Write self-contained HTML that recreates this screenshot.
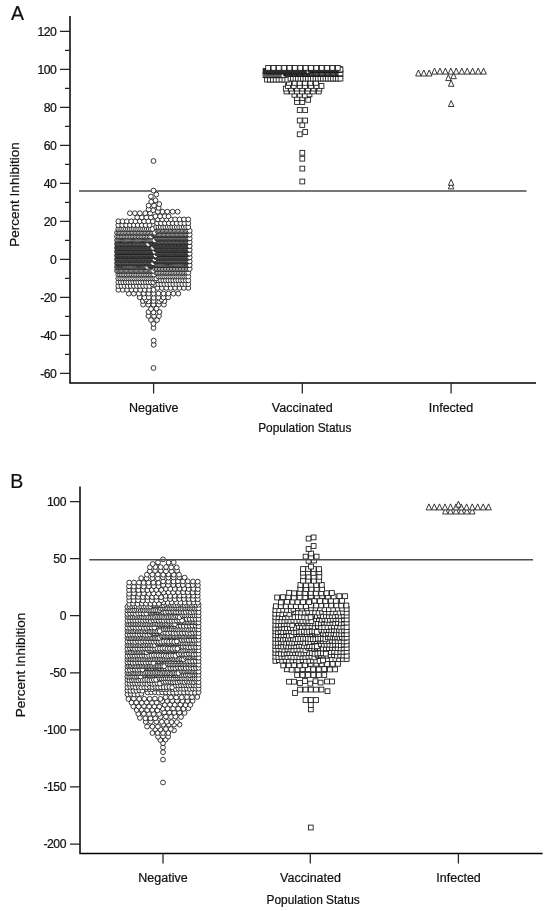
<!DOCTYPE html><html><head><meta charset="utf-8"><title>Figure</title><style>html,body{margin:0;padding:0;background:#fff}svg{display:block}text{stroke:#111;stroke-width:.22px}</style></head><body><svg width="550" height="911" viewBox="0 0 550 911" font-family="'Liberation Sans', sans-serif" font-size="12.5" fill="#111">
<defs><rect id="s" x="-2.4" y="-2.4" width="4.8" height="4.8"/><path id="t" d="M0-3.3L2.75 2.7H-2.75Z"/></defs>
<rect width="550" height="911" fill="#fff"/>
<text x="11" y="19.5" font-size="19.5">A</text>
<text x="10.2" y="488.4" font-size="19.5">B</text>
<path d="M79 191H526.5" stroke="#4a4a4a" stroke-width="1.4" fill="none"/>
<g fill="#fff" stroke="#1c1c1c" stroke-width=".88"><circle cx="153.5" cy="368" r="2.4"/><circle cx="153.7" cy="344.8" r="2.4"/><circle cx="153.7" cy="340.6" r="2.4"/><circle cx="153.5" cy="328" r="2.4"/><circle cx="153.5" cy="323.8" r="2.4"/><circle cx="151" cy="320" r="2.4"/><circle cx="157" cy="320" r="2.4"/><circle cx="148.5" cy="316" r="2.4"/><circle cx="154" cy="316" r="2.4"/><circle cx="159" cy="316" r="2.4"/><circle cx="148.5" cy="312" r="2.4"/><circle cx="153.5" cy="312.4" r="2.4"/><circle cx="159.5" cy="312" r="2.4"/><circle cx="151" cy="309" r="2.4"/><circle cx="156.5" cy="308.6" r="2.4"/><circle cx="143.1" cy="304.6" r="2.4"/><circle cx="148.3" cy="304.6" r="2.4"/><circle cx="153.5" cy="304.6" r="2.4"/><circle cx="158.7" cy="304.6" r="2.4"/><circle cx="163.9" cy="304.6" r="2.4"/><circle cx="142.9" cy="301" r="2.4"/><circle cx="148.5" cy="301.4" r="2.4"/><circle cx="153.6" cy="301" r="2.4"/><circle cx="159.2" cy="301.5" r="2.4"/><circle cx="164.4" cy="301.1" r="2.4"/><circle cx="146" cy="299.6" r="2.4"/><circle cx="161.5" cy="299.6" r="2.4"/><circle cx="139.7" cy="297.3" r="2.4"/><circle cx="144.4" cy="297.5" r="2.4"/><circle cx="148.8" cy="297.4" r="2.4"/><circle cx="153.7" cy="297.8" r="2.4"/><circle cx="158.4" cy="297.6" r="2.4"/><circle cx="163.5" cy="297.5" r="2.4"/><circle cx="168.2" cy="297.3" r="2.4"/><circle cx="128.8" cy="293.6" r="2.4"/><circle cx="133.8" cy="293.6" r="2.4"/><circle cx="138.8" cy="293.6" r="2.4"/><circle cx="143.7" cy="293.6" r="2.4"/><circle cx="148.7" cy="293.6" r="2.4"/><circle cx="153.6" cy="293.6" r="2.4"/><circle cx="158.5" cy="293.6" r="2.4"/><circle cx="163.5" cy="293.6" r="2.4"/><circle cx="168.4" cy="293.6" r="2.4"/><circle cx="173.4" cy="293.6" r="2.4"/><circle cx="178.3" cy="293.6" r="2.4"/><circle cx="118.3" cy="289.8" r="2.4"/><circle cx="122.7" cy="289.8" r="2.4"/><circle cx="127.1" cy="289.8" r="2.4"/><circle cx="131.5" cy="289.8" r="2.4"/><circle cx="135.9" cy="289.8" r="2.4"/><circle cx="140.3" cy="289.8" r="2.4"/><circle cx="144.7" cy="289.8" r="2.4"/><circle cx="149.1" cy="289.8" r="2.4"/><circle cx="153.5" cy="289.8" r="2.4"/><circle cx="157.5" cy="287.9" r="2.4"/><circle cx="161.9" cy="287.9" r="2.4"/><circle cx="166.3" cy="287.9" r="2.4"/><circle cx="170.7" cy="287.9" r="2.4"/><circle cx="175.1" cy="287.9" r="2.4"/><circle cx="179.5" cy="287.9" r="2.4"/><circle cx="183.9" cy="287.9" r="2.4"/><circle cx="188.3" cy="287.9" r="2.4"/><circle cx="118.3" cy="286" r="2.4"/><circle cx="121.4" cy="286" r="2.4"/><circle cx="124.5" cy="286" r="2.4"/><circle cx="127.6" cy="286" r="2.4"/><circle cx="130.7" cy="286" r="2.4"/><circle cx="133.8" cy="286" r="2.4"/><circle cx="136.9" cy="286" r="2.4"/><circle cx="140" cy="286" r="2.4"/><circle cx="143.1" cy="286" r="2.4"/><circle cx="146.2" cy="286" r="2.4"/><circle cx="149.3" cy="286" r="2.4"/><circle cx="152.3" cy="284.1" r="2.4"/><circle cx="155.3" cy="284.1" r="2.4"/><circle cx="158.3" cy="284.1" r="2.4"/><circle cx="161.3" cy="284.1" r="2.4"/><circle cx="164.3" cy="284.1" r="2.4"/><circle cx="167.3" cy="284.1" r="2.4"/><circle cx="170.3" cy="284.1" r="2.4"/><circle cx="173.3" cy="284.1" r="2.4"/><circle cx="176.3" cy="284.1" r="2.4"/><circle cx="179.3" cy="284.1" r="2.4"/><circle cx="182.3" cy="284.1" r="2.4"/><circle cx="185.3" cy="284.1" r="2.4"/><circle cx="188.3" cy="284.1" r="2.4"/><circle cx="118.3" cy="282.2" r="2.4"/><circle cx="120.8" cy="282.2" r="2.4"/><circle cx="123.3" cy="282.2" r="2.4"/><circle cx="125.8" cy="282.2" r="2.4"/><circle cx="128.3" cy="282.2" r="2.4"/><circle cx="130.8" cy="282.2" r="2.4"/><circle cx="133.3" cy="282.2" r="2.4"/><circle cx="135.8" cy="282.2" r="2.4"/><circle cx="138.3" cy="282.2" r="2.4"/><circle cx="140.8" cy="282.2" r="2.4"/><circle cx="143.3" cy="282.2" r="2.4"/><circle cx="145.8" cy="282.2" r="2.4"/><circle cx="148.3" cy="282.2" r="2.4"/><circle cx="150.8" cy="282.2" r="2.4"/><circle cx="153.3" cy="282.2" r="2.4"/><circle cx="155.8" cy="280.3" r="2.4"/><circle cx="158.3" cy="280.3" r="2.4"/><circle cx="160.8" cy="280.3" r="2.4"/><circle cx="163.3" cy="280.3" r="2.4"/><circle cx="165.8" cy="280.3" r="2.4"/><circle cx="168.3" cy="280.3" r="2.4"/><circle cx="170.8" cy="280.3" r="2.4"/><circle cx="173.3" cy="280.3" r="2.4"/><circle cx="175.8" cy="280.3" r="2.4"/><circle cx="178.3" cy="280.3" r="2.4"/><circle cx="180.8" cy="280.3" r="2.4"/><circle cx="183.3" cy="280.3" r="2.4"/><circle cx="185.8" cy="280.3" r="2.4"/><circle cx="188.3" cy="280.3" r="2.4"/><circle cx="118.3" cy="278.4" r="2.4"/><circle cx="120.3" cy="278.4" r="2.4"/><circle cx="122.3" cy="278.4" r="2.4"/><circle cx="124.3" cy="278.4" r="2.4"/><circle cx="126.3" cy="278.4" r="2.4"/><circle cx="128.3" cy="278.4" r="2.4"/><circle cx="130.3" cy="278.4" r="2.4"/><circle cx="132.3" cy="278.4" r="2.4"/><circle cx="134.3" cy="278.4" r="2.4"/><circle cx="136.3" cy="278.4" r="2.4"/><circle cx="138.3" cy="278.4" r="2.4"/><circle cx="140.3" cy="278.4" r="2.4"/><circle cx="142.3" cy="278.4" r="2.4"/><circle cx="144.3" cy="278.4" r="2.4"/><circle cx="146.3" cy="278.4" r="2.4"/><circle cx="148.3" cy="278.4" r="2.4"/><circle cx="150.3" cy="278.4" r="2.4"/><circle cx="152.3" cy="278.4" r="2.4"/><circle cx="154.3" cy="278.4" r="2.4"/><circle cx="156.3" cy="278.4" r="2.4"/><circle cx="158.3" cy="276.5" r="2.4"/><circle cx="160.3" cy="276.5" r="2.4"/><circle cx="162.3" cy="276.5" r="2.4"/><circle cx="164.3" cy="276.5" r="2.4"/><circle cx="166.3" cy="276.5" r="2.4"/><circle cx="168.3" cy="276.5" r="2.4"/><circle cx="170.3" cy="276.5" r="2.4"/><circle cx="172.3" cy="276.5" r="2.4"/><circle cx="174.3" cy="276.5" r="2.4"/><circle cx="176.3" cy="276.5" r="2.4"/><circle cx="178.3" cy="276.5" r="2.4"/><circle cx="180.3" cy="276.5" r="2.4"/><circle cx="182.3" cy="276.5" r="2.4"/><circle cx="184.3" cy="276.5" r="2.4"/><circle cx="186.3" cy="276.5" r="2.4"/><circle cx="188.3" cy="276.5" r="2.4"/><circle cx="118.3" cy="274.6" r="2.4"/><circle cx="120" cy="274.6" r="2.4"/><circle cx="121.7" cy="274.6" r="2.4"/><circle cx="123.4" cy="274.6" r="2.4"/><circle cx="125.1" cy="274.6" r="2.4"/><circle cx="126.8" cy="274.6" r="2.4"/><circle cx="128.5" cy="274.6" r="2.4"/><circle cx="130.2" cy="274.6" r="2.4"/><circle cx="131.9" cy="274.6" r="2.4"/><circle cx="133.6" cy="274.6" r="2.4"/><circle cx="135.3" cy="274.6" r="2.4"/><circle cx="137" cy="274.6" r="2.4"/><circle cx="138.7" cy="274.6" r="2.4"/><circle cx="140.4" cy="274.6" r="2.4"/><circle cx="142.1" cy="274.6" r="2.4"/><circle cx="143.8" cy="274.6" r="2.4"/><circle cx="145.5" cy="274.6" r="2.4"/><circle cx="147.2" cy="274.6" r="2.4"/><circle cx="148.9" cy="274.6" r="2.4"/><circle cx="150.6" cy="274.6" r="2.4"/><circle cx="152.3" cy="274.6" r="2.4"/><circle cx="154" cy="274.6" r="2.4"/><circle cx="156.3" cy="272.7" r="2.4"/><circle cx="157.9" cy="272.7" r="2.4"/><circle cx="159.5" cy="272.7" r="2.4"/><circle cx="161.1" cy="272.7" r="2.4"/><circle cx="162.7" cy="272.7" r="2.4"/><circle cx="164.3" cy="272.7" r="2.4"/><circle cx="165.9" cy="272.7" r="2.4"/><circle cx="167.5" cy="272.7" r="2.4"/><circle cx="169.1" cy="272.7" r="2.4"/><circle cx="170.7" cy="272.7" r="2.4"/><circle cx="172.3" cy="272.7" r="2.4"/><circle cx="173.9" cy="272.7" r="2.4"/><circle cx="175.5" cy="272.7" r="2.4"/><circle cx="177.1" cy="272.7" r="2.4"/><circle cx="178.7" cy="272.7" r="2.4"/><circle cx="180.3" cy="272.7" r="2.4"/><circle cx="181.9" cy="272.7" r="2.4"/><circle cx="183.5" cy="272.7" r="2.4"/><circle cx="185.1" cy="272.7" r="2.4"/><circle cx="186.7" cy="272.7" r="2.4"/><circle cx="188.3" cy="272.7" r="2.4"/><circle cx="117" cy="270.8" r="2.4"/><circle cx="118.2" cy="270.8" r="2.4"/><circle cx="119.5" cy="270.8" r="2.4"/><circle cx="120.8" cy="270.8" r="2.4"/><circle cx="122" cy="270.8" r="2.4"/><circle cx="123.2" cy="270.8" r="2.4"/><circle cx="124.5" cy="270.8" r="2.4"/><circle cx="125.8" cy="270.8" r="2.4"/><circle cx="127" cy="270.8" r="2.4"/><circle cx="128.2" cy="270.8" r="2.4"/><circle cx="129.5" cy="270.8" r="2.4"/><circle cx="130.8" cy="270.8" r="2.4"/><circle cx="132" cy="270.8" r="2.4"/><circle cx="133.2" cy="270.8" r="2.4"/><circle cx="134.5" cy="270.8" r="2.4"/><circle cx="135.8" cy="270.8" r="2.4"/><circle cx="137" cy="270.8" r="2.4"/><circle cx="138.2" cy="270.8" r="2.4"/><circle cx="139.5" cy="270.8" r="2.4"/><circle cx="140.8" cy="270.8" r="2.4"/><circle cx="142" cy="270.8" r="2.4"/><circle cx="143.2" cy="270.8" r="2.4"/><circle cx="144.5" cy="270.8" r="2.4"/><circle cx="145.8" cy="270.8" r="2.4"/><circle cx="147" cy="270.8" r="2.4"/><circle cx="148.2" cy="270.8" r="2.4"/><circle cx="149.5" cy="270.8" r="2.4"/><circle cx="150.8" cy="270.8" r="2.4"/><circle cx="152" cy="270.8" r="2.4"/><circle cx="153.2" cy="270.8" r="2.4"/><circle cx="155.2" cy="268.9" r="2.4"/><circle cx="156.7" cy="268.9" r="2.4"/><circle cx="158.2" cy="268.9" r="2.4"/><circle cx="159.7" cy="268.9" r="2.4"/><circle cx="161.2" cy="268.9" r="2.4"/><circle cx="162.7" cy="268.9" r="2.4"/><circle cx="164.2" cy="268.9" r="2.4"/><circle cx="165.7" cy="268.9" r="2.4"/><circle cx="167.2" cy="268.9" r="2.4"/><circle cx="168.7" cy="268.9" r="2.4"/><circle cx="170.2" cy="268.9" r="2.4"/><circle cx="171.7" cy="268.9" r="2.4"/><circle cx="173.2" cy="268.9" r="2.4"/><circle cx="174.7" cy="268.9" r="2.4"/><circle cx="176.2" cy="268.9" r="2.4"/><circle cx="177.7" cy="268.9" r="2.4"/><circle cx="179.2" cy="268.9" r="2.4"/><circle cx="180.7" cy="268.9" r="2.4"/><circle cx="182.2" cy="268.9" r="2.4"/><circle cx="183.7" cy="268.9" r="2.4"/><circle cx="185.2" cy="268.9" r="2.4"/><circle cx="186.7" cy="268.9" r="2.4"/><circle cx="188.2" cy="268.9" r="2.4"/><circle cx="189.7" cy="268.9" r="2.4"/><circle cx="117" cy="267" r="2.4"/><circle cx="118" cy="267" r="2.4"/><circle cx="118.9" cy="267" r="2.4"/><circle cx="119.8" cy="267" r="2.4"/><circle cx="120.8" cy="267" r="2.4"/><circle cx="121.8" cy="267" r="2.4"/><circle cx="122.7" cy="267" r="2.4"/><circle cx="123.7" cy="267" r="2.4"/><circle cx="124.6" cy="267" r="2.4"/><circle cx="125.5" cy="267" r="2.4"/><circle cx="126.5" cy="267" r="2.4"/><circle cx="127.5" cy="267" r="2.4"/><circle cx="128.4" cy="267" r="2.4"/><circle cx="129.3" cy="267" r="2.4"/><circle cx="130.3" cy="267" r="2.4"/><circle cx="131.2" cy="267" r="2.4"/><circle cx="132.2" cy="267" r="2.4"/><circle cx="133.2" cy="267" r="2.4"/><circle cx="134.1" cy="267" r="2.4"/><circle cx="135.1" cy="267" r="2.4"/><circle cx="136" cy="267" r="2.4"/><circle cx="136.9" cy="267" r="2.4"/><circle cx="137.9" cy="267" r="2.4"/><circle cx="138.8" cy="267" r="2.4"/><circle cx="139.8" cy="267" r="2.4"/><circle cx="140.8" cy="267" r="2.4"/><circle cx="141.7" cy="267" r="2.4"/><circle cx="142.7" cy="267" r="2.4"/><circle cx="143.6" cy="267" r="2.4"/><circle cx="144.6" cy="267" r="2.4"/><circle cx="145.5" cy="267" r="2.4"/><circle cx="146.4" cy="267" r="2.4"/><circle cx="147.4" cy="267" r="2.4"/><circle cx="148.8" cy="265.1" r="2.4"/><circle cx="149.8" cy="265.1" r="2.4"/><circle cx="150.8" cy="265.1" r="2.4"/><circle cx="151.7" cy="265.1" r="2.4"/><circle cx="152.6" cy="265.1" r="2.4"/><circle cx="153.6" cy="265.1" r="2.4"/><circle cx="154.5" cy="265.1" r="2.4"/><circle cx="155.5" cy="265.1" r="2.4"/><circle cx="156.4" cy="265.1" r="2.4"/><circle cx="157.4" cy="265.1" r="2.4"/><circle cx="158.3" cy="265.1" r="2.4"/><circle cx="159.3" cy="265.1" r="2.4"/><circle cx="160.2" cy="265.1" r="2.4"/><circle cx="161.2" cy="265.1" r="2.4"/><circle cx="162.1" cy="265.1" r="2.4"/><circle cx="163.1" cy="265.1" r="2.4"/><circle cx="164" cy="265.1" r="2.4"/><circle cx="165" cy="265.1" r="2.4"/><circle cx="165.9" cy="265.1" r="2.4"/><circle cx="166.9" cy="265.1" r="2.4"/><circle cx="167.8" cy="265.1" r="2.4"/><circle cx="168.8" cy="265.1" r="2.4"/><circle cx="169.8" cy="265.1" r="2.4"/><circle cx="170.7" cy="265.1" r="2.4"/><circle cx="171.6" cy="265.1" r="2.4"/><circle cx="172.6" cy="265.1" r="2.4"/><circle cx="173.5" cy="265.1" r="2.4"/><circle cx="174.5" cy="265.1" r="2.4"/><circle cx="175.4" cy="265.1" r="2.4"/><circle cx="176.4" cy="265.1" r="2.4"/><circle cx="177.3" cy="265.1" r="2.4"/><circle cx="178.3" cy="265.1" r="2.4"/><circle cx="179.2" cy="265.1" r="2.4"/><circle cx="180.2" cy="265.1" r="2.4"/><circle cx="181.1" cy="265.1" r="2.4"/><circle cx="182.1" cy="265.1" r="2.4"/><circle cx="183" cy="265.1" r="2.4"/><circle cx="184" cy="265.1" r="2.4"/><circle cx="184.9" cy="265.1" r="2.4"/><circle cx="185.9" cy="265.1" r="2.4"/><circle cx="186.8" cy="265.1" r="2.4"/><circle cx="187.8" cy="265.1" r="2.4"/><circle cx="188.8" cy="265.1" r="2.4"/><circle cx="189.7" cy="265.1" r="2.4"/><circle cx="117" cy="263.2" r="2.4"/><circle cx="117.7" cy="263.2" r="2.4"/><circle cx="118.4" cy="263.2" r="2.4"/><circle cx="119.2" cy="263.2" r="2.4"/><circle cx="119.9" cy="263.2" r="2.4"/><circle cx="120.6" cy="263.2" r="2.4"/><circle cx="121.3" cy="263.2" r="2.4"/><circle cx="122" cy="263.2" r="2.4"/><circle cx="122.8" cy="263.2" r="2.4"/><circle cx="123.5" cy="263.2" r="2.4"/><circle cx="124.2" cy="263.2" r="2.4"/><circle cx="124.9" cy="263.2" r="2.4"/><circle cx="125.6" cy="263.2" r="2.4"/><circle cx="126.4" cy="263.2" r="2.4"/><circle cx="127.1" cy="263.2" r="2.4"/><circle cx="127.8" cy="263.2" r="2.4"/><circle cx="128.5" cy="263.2" r="2.4"/><circle cx="129.2" cy="263.2" r="2.4"/><circle cx="130" cy="263.2" r="2.4"/><circle cx="130.7" cy="263.2" r="2.4"/><circle cx="131.4" cy="263.2" r="2.4"/><circle cx="132.1" cy="263.2" r="2.4"/><circle cx="132.8" cy="263.2" r="2.4"/><circle cx="133.6" cy="263.2" r="2.4"/><circle cx="134.3" cy="263.2" r="2.4"/><circle cx="135" cy="263.2" r="2.4"/><circle cx="135.7" cy="263.2" r="2.4"/><circle cx="136.4" cy="263.2" r="2.4"/><circle cx="137.2" cy="263.2" r="2.4"/><circle cx="137.9" cy="263.2" r="2.4"/><circle cx="138.6" cy="263.2" r="2.4"/><circle cx="139.3" cy="263.2" r="2.4"/><circle cx="140" cy="263.2" r="2.4"/><circle cx="140.8" cy="263.2" r="2.4"/><circle cx="141.5" cy="263.2" r="2.4"/><circle cx="142.2" cy="263.2" r="2.4"/><circle cx="142.9" cy="263.2" r="2.4"/><circle cx="143.6" cy="263.2" r="2.4"/><circle cx="144.4" cy="263.2" r="2.4"/><circle cx="145.1" cy="263.2" r="2.4"/><circle cx="145.8" cy="263.2" r="2.4"/><circle cx="146.5" cy="263.2" r="2.4"/><circle cx="147.2" cy="263.2" r="2.4"/><circle cx="148" cy="263.2" r="2.4"/><circle cx="148.7" cy="263.2" r="2.4"/><circle cx="149.4" cy="263.2" r="2.4"/><circle cx="150.1" cy="263.2" r="2.4"/><circle cx="150.8" cy="263.2" r="2.4"/><circle cx="151.6" cy="263.2" r="2.4"/><circle cx="152.3" cy="263.2" r="2.4"/><circle cx="153" cy="263.2" r="2.4"/><circle cx="155.1" cy="261.3" r="2.4"/><circle cx="155.9" cy="261.3" r="2.4"/><circle cx="156.6" cy="261.3" r="2.4"/><circle cx="157.3" cy="261.3" r="2.4"/><circle cx="158" cy="261.3" r="2.4"/><circle cx="158.7" cy="261.3" r="2.4"/><circle cx="159.5" cy="261.3" r="2.4"/><circle cx="160.2" cy="261.3" r="2.4"/><circle cx="160.9" cy="261.3" r="2.4"/><circle cx="161.6" cy="261.3" r="2.4"/><circle cx="162.3" cy="261.3" r="2.4"/><circle cx="163.1" cy="261.3" r="2.4"/><circle cx="163.8" cy="261.3" r="2.4"/><circle cx="164.5" cy="261.3" r="2.4"/><circle cx="165.2" cy="261.3" r="2.4"/><circle cx="165.9" cy="261.3" r="2.4"/><circle cx="166.7" cy="261.3" r="2.4"/><circle cx="167.4" cy="261.3" r="2.4"/><circle cx="168.1" cy="261.3" r="2.4"/><circle cx="168.8" cy="261.3" r="2.4"/><circle cx="169.5" cy="261.3" r="2.4"/><circle cx="170.3" cy="261.3" r="2.4"/><circle cx="171" cy="261.3" r="2.4"/><circle cx="171.7" cy="261.3" r="2.4"/><circle cx="172.4" cy="261.3" r="2.4"/><circle cx="173.1" cy="261.3" r="2.4"/><circle cx="173.9" cy="261.3" r="2.4"/><circle cx="174.6" cy="261.3" r="2.4"/><circle cx="175.3" cy="261.3" r="2.4"/><circle cx="176" cy="261.3" r="2.4"/><circle cx="176.7" cy="261.3" r="2.4"/><circle cx="177.5" cy="261.3" r="2.4"/><circle cx="178.2" cy="261.3" r="2.4"/><circle cx="178.9" cy="261.3" r="2.4"/><circle cx="179.6" cy="261.3" r="2.4"/><circle cx="180.3" cy="261.3" r="2.4"/><circle cx="181.1" cy="261.3" r="2.4"/><circle cx="181.8" cy="261.3" r="2.4"/><circle cx="182.5" cy="261.3" r="2.4"/><circle cx="183.2" cy="261.3" r="2.4"/><circle cx="183.9" cy="261.3" r="2.4"/><circle cx="184.7" cy="261.3" r="2.4"/><circle cx="185.4" cy="261.3" r="2.4"/><circle cx="186.1" cy="261.3" r="2.4"/><circle cx="186.8" cy="261.3" r="2.4"/><circle cx="187.5" cy="261.3" r="2.4"/><circle cx="188.3" cy="261.3" r="2.4"/><circle cx="189" cy="261.3" r="2.4"/><circle cx="189.7" cy="261.3" r="2.4"/><circle cx="117" cy="259.4" r="2.4"/><circle cx="117.6" cy="259.4" r="2.4"/><circle cx="118.2" cy="259.4" r="2.4"/><circle cx="118.7" cy="259.4" r="2.4"/><circle cx="119.3" cy="259.4" r="2.4"/><circle cx="119.9" cy="259.4" r="2.4"/><circle cx="120.5" cy="259.4" r="2.4"/><circle cx="121.1" cy="259.4" r="2.4"/><circle cx="121.6" cy="259.4" r="2.4"/><circle cx="122.2" cy="259.4" r="2.4"/><circle cx="122.8" cy="259.4" r="2.4"/><circle cx="123.4" cy="259.4" r="2.4"/><circle cx="124" cy="259.4" r="2.4"/><circle cx="124.5" cy="259.4" r="2.4"/><circle cx="125.1" cy="259.4" r="2.4"/><circle cx="125.7" cy="259.4" r="2.4"/><circle cx="126.3" cy="259.4" r="2.4"/><circle cx="126.9" cy="259.4" r="2.4"/><circle cx="127.4" cy="259.4" r="2.4"/><circle cx="128" cy="259.4" r="2.4"/><circle cx="128.6" cy="259.4" r="2.4"/><circle cx="129.2" cy="259.4" r="2.4"/><circle cx="129.8" cy="259.4" r="2.4"/><circle cx="130.3" cy="259.4" r="2.4"/><circle cx="130.9" cy="259.4" r="2.4"/><circle cx="131.5" cy="259.4" r="2.4"/><circle cx="132.1" cy="259.4" r="2.4"/><circle cx="132.7" cy="259.4" r="2.4"/><circle cx="133.2" cy="259.4" r="2.4"/><circle cx="133.8" cy="259.4" r="2.4"/><circle cx="134.4" cy="259.4" r="2.4"/><circle cx="135" cy="259.4" r="2.4"/><circle cx="135.6" cy="259.4" r="2.4"/><circle cx="136.1" cy="259.4" r="2.4"/><circle cx="136.7" cy="259.4" r="2.4"/><circle cx="137.3" cy="259.4" r="2.4"/><circle cx="137.9" cy="259.4" r="2.4"/><circle cx="138.5" cy="259.4" r="2.4"/><circle cx="139" cy="259.4" r="2.4"/><circle cx="139.6" cy="259.4" r="2.4"/><circle cx="140.2" cy="259.4" r="2.4"/><circle cx="140.8" cy="259.4" r="2.4"/><circle cx="141.4" cy="259.4" r="2.4"/><circle cx="141.9" cy="259.4" r="2.4"/><circle cx="142.5" cy="259.4" r="2.4"/><circle cx="143.1" cy="259.4" r="2.4"/><circle cx="143.7" cy="259.4" r="2.4"/><circle cx="144.3" cy="259.4" r="2.4"/><circle cx="144.8" cy="259.4" r="2.4"/><circle cx="145.4" cy="259.4" r="2.4"/><circle cx="146" cy="259.4" r="2.4"/><circle cx="146.6" cy="259.4" r="2.4"/><circle cx="147.2" cy="259.4" r="2.4"/><circle cx="147.7" cy="259.4" r="2.4"/><circle cx="148.3" cy="259.4" r="2.4"/><circle cx="148.9" cy="259.4" r="2.4"/><circle cx="149.5" cy="259.4" r="2.4"/><circle cx="150.1" cy="259.4" r="2.4"/><circle cx="150.6" cy="259.4" r="2.4"/><circle cx="151.2" cy="259.4" r="2.4"/><circle cx="151.8" cy="259.4" r="2.4"/><circle cx="152.4" cy="259.4" r="2.4"/><circle cx="153" cy="259.4" r="2.4"/><circle cx="153.5" cy="259.4" r="2.4"/><circle cx="154.1" cy="259.4" r="2.4"/><circle cx="154.7" cy="259.4" r="2.4"/><circle cx="156.1" cy="257.4" r="2.4"/><circle cx="156.6" cy="257.4" r="2.4"/><circle cx="157.2" cy="257.4" r="2.4"/><circle cx="157.8" cy="257.4" r="2.4"/><circle cx="158.4" cy="257.4" r="2.4"/><circle cx="159" cy="257.4" r="2.4"/><circle cx="159.5" cy="257.4" r="2.4"/><circle cx="160.1" cy="257.4" r="2.4"/><circle cx="160.7" cy="257.4" r="2.4"/><circle cx="161.3" cy="257.4" r="2.4"/><circle cx="161.9" cy="257.4" r="2.4"/><circle cx="162.4" cy="257.4" r="2.4"/><circle cx="163" cy="257.4" r="2.4"/><circle cx="163.6" cy="257.4" r="2.4"/><circle cx="164.2" cy="257.4" r="2.4"/><circle cx="164.8" cy="257.4" r="2.4"/><circle cx="165.3" cy="257.4" r="2.4"/><circle cx="165.9" cy="257.4" r="2.4"/><circle cx="166.5" cy="257.4" r="2.4"/><circle cx="167.1" cy="257.4" r="2.4"/><circle cx="167.7" cy="257.4" r="2.4"/><circle cx="168.2" cy="257.4" r="2.4"/><circle cx="168.8" cy="257.4" r="2.4"/><circle cx="169.4" cy="257.4" r="2.4"/><circle cx="170" cy="257.4" r="2.4"/><circle cx="170.6" cy="257.4" r="2.4"/><circle cx="171.1" cy="257.4" r="2.4"/><circle cx="171.7" cy="257.4" r="2.4"/><circle cx="172.3" cy="257.4" r="2.4"/><circle cx="172.9" cy="257.4" r="2.4"/><circle cx="173.5" cy="257.4" r="2.4"/><circle cx="174" cy="257.4" r="2.4"/><circle cx="174.6" cy="257.4" r="2.4"/><circle cx="175.2" cy="257.4" r="2.4"/><circle cx="175.8" cy="257.4" r="2.4"/><circle cx="176.4" cy="257.4" r="2.4"/><circle cx="176.9" cy="257.4" r="2.4"/><circle cx="177.5" cy="257.4" r="2.4"/><circle cx="178.1" cy="257.4" r="2.4"/><circle cx="178.7" cy="257.4" r="2.4"/><circle cx="179.3" cy="257.4" r="2.4"/><circle cx="179.8" cy="257.4" r="2.4"/><circle cx="180.4" cy="257.4" r="2.4"/><circle cx="181" cy="257.4" r="2.4"/><circle cx="181.6" cy="257.4" r="2.4"/><circle cx="182.2" cy="257.4" r="2.4"/><circle cx="182.7" cy="257.4" r="2.4"/><circle cx="183.3" cy="257.4" r="2.4"/><circle cx="183.9" cy="257.4" r="2.4"/><circle cx="184.5" cy="257.4" r="2.4"/><circle cx="185.1" cy="257.4" r="2.4"/><circle cx="185.6" cy="257.4" r="2.4"/><circle cx="186.2" cy="257.4" r="2.4"/><circle cx="186.8" cy="257.4" r="2.4"/><circle cx="187.4" cy="257.4" r="2.4"/><circle cx="188" cy="257.4" r="2.4"/><circle cx="188.5" cy="257.4" r="2.4"/><circle cx="189.1" cy="257.4" r="2.4"/><circle cx="189.7" cy="257.4" r="2.4"/><circle cx="117" cy="255.5" r="2.4"/><circle cx="117.5" cy="255.5" r="2.4"/><circle cx="118.1" cy="255.5" r="2.4"/><circle cx="118.7" cy="255.5" r="2.4"/><circle cx="119.2" cy="255.5" r="2.4"/><circle cx="119.8" cy="255.5" r="2.4"/><circle cx="120.3" cy="255.5" r="2.4"/><circle cx="120.8" cy="255.5" r="2.4"/><circle cx="121.4" cy="255.5" r="2.4"/><circle cx="122" cy="255.5" r="2.4"/><circle cx="122.5" cy="255.5" r="2.4"/><circle cx="123" cy="255.5" r="2.4"/><circle cx="123.6" cy="255.5" r="2.4"/><circle cx="124.2" cy="255.5" r="2.4"/><circle cx="124.7" cy="255.5" r="2.4"/><circle cx="125.2" cy="255.5" r="2.4"/><circle cx="125.8" cy="255.5" r="2.4"/><circle cx="126.3" cy="255.5" r="2.4"/><circle cx="126.9" cy="255.5" r="2.4"/><circle cx="127.5" cy="255.5" r="2.4"/><circle cx="128" cy="255.5" r="2.4"/><circle cx="128.6" cy="255.5" r="2.4"/><circle cx="129.1" cy="255.5" r="2.4"/><circle cx="129.7" cy="255.5" r="2.4"/><circle cx="130.2" cy="255.5" r="2.4"/><circle cx="130.8" cy="255.5" r="2.4"/><circle cx="131.3" cy="255.5" r="2.4"/><circle cx="131.8" cy="255.5" r="2.4"/><circle cx="132.4" cy="255.5" r="2.4"/><circle cx="132.9" cy="255.5" r="2.4"/><circle cx="133.5" cy="255.5" r="2.4"/><circle cx="134.1" cy="255.5" r="2.4"/><circle cx="134.6" cy="255.5" r="2.4"/><circle cx="135.2" cy="255.5" r="2.4"/><circle cx="135.7" cy="255.5" r="2.4"/><circle cx="136.2" cy="255.5" r="2.4"/><circle cx="136.8" cy="255.5" r="2.4"/><circle cx="137.3" cy="255.5" r="2.4"/><circle cx="137.9" cy="255.5" r="2.4"/><circle cx="138.4" cy="255.5" r="2.4"/><circle cx="139" cy="255.5" r="2.4"/><circle cx="139.6" cy="255.5" r="2.4"/><circle cx="140.1" cy="255.5" r="2.4"/><circle cx="140.7" cy="255.5" r="2.4"/><circle cx="141.2" cy="255.5" r="2.4"/><circle cx="141.8" cy="255.5" r="2.4"/><circle cx="142.3" cy="255.5" r="2.4"/><circle cx="142.8" cy="255.5" r="2.4"/><circle cx="143.4" cy="255.5" r="2.4"/><circle cx="143.9" cy="255.5" r="2.4"/><circle cx="144.5" cy="255.5" r="2.4"/><circle cx="145.1" cy="255.5" r="2.4"/><circle cx="145.6" cy="255.5" r="2.4"/><circle cx="146.2" cy="255.5" r="2.4"/><circle cx="146.7" cy="255.5" r="2.4"/><circle cx="147.2" cy="255.5" r="2.4"/><circle cx="147.8" cy="255.5" r="2.4"/><circle cx="148.3" cy="255.5" r="2.4"/><circle cx="148.9" cy="255.5" r="2.4"/><circle cx="149.4" cy="255.5" r="2.4"/><circle cx="150" cy="255.5" r="2.4"/><circle cx="150.6" cy="255.5" r="2.4"/><circle cx="151.1" cy="255.5" r="2.4"/><circle cx="151.7" cy="255.5" r="2.4"/><circle cx="152.2" cy="255.5" r="2.4"/><circle cx="152.8" cy="255.5" r="2.4"/><circle cx="153.3" cy="255.5" r="2.4"/><circle cx="153.8" cy="255.5" r="2.4"/><circle cx="154.4" cy="255.5" r="2.4"/><circle cx="154.9" cy="255.5" r="2.4"/><circle cx="155.5" cy="255.5" r="2.4"/><circle cx="157.2" cy="253.6" r="2.4"/><circle cx="157.8" cy="253.6" r="2.4"/><circle cx="158.3" cy="253.6" r="2.4"/><circle cx="158.9" cy="253.6" r="2.4"/><circle cx="159.4" cy="253.6" r="2.4"/><circle cx="160" cy="253.6" r="2.4"/><circle cx="160.5" cy="253.6" r="2.4"/><circle cx="161.1" cy="253.6" r="2.4"/><circle cx="161.6" cy="253.6" r="2.4"/><circle cx="162.2" cy="253.6" r="2.4"/><circle cx="162.8" cy="253.6" r="2.4"/><circle cx="163.3" cy="253.6" r="2.4"/><circle cx="163.8" cy="253.6" r="2.4"/><circle cx="164.4" cy="253.6" r="2.4"/><circle cx="164.9" cy="253.6" r="2.4"/><circle cx="165.5" cy="253.6" r="2.4"/><circle cx="166" cy="253.6" r="2.4"/><circle cx="166.6" cy="253.6" r="2.4"/><circle cx="167.1" cy="253.6" r="2.4"/><circle cx="167.7" cy="253.6" r="2.4"/><circle cx="168.2" cy="253.6" r="2.4"/><circle cx="168.8" cy="253.6" r="2.4"/><circle cx="169.3" cy="253.6" r="2.4"/><circle cx="169.9" cy="253.6" r="2.4"/><circle cx="170.4" cy="253.6" r="2.4"/><circle cx="171" cy="253.6" r="2.4"/><circle cx="171.5" cy="253.6" r="2.4"/><circle cx="172.1" cy="253.6" r="2.4"/><circle cx="172.6" cy="253.6" r="2.4"/><circle cx="173.2" cy="253.6" r="2.4"/><circle cx="173.8" cy="253.6" r="2.4"/><circle cx="174.3" cy="253.6" r="2.4"/><circle cx="174.8" cy="253.6" r="2.4"/><circle cx="175.4" cy="253.6" r="2.4"/><circle cx="175.9" cy="253.6" r="2.4"/><circle cx="176.5" cy="253.6" r="2.4"/><circle cx="177" cy="253.6" r="2.4"/><circle cx="177.6" cy="253.6" r="2.4"/><circle cx="178.1" cy="253.6" r="2.4"/><circle cx="178.7" cy="253.6" r="2.4"/><circle cx="179.2" cy="253.6" r="2.4"/><circle cx="179.8" cy="253.6" r="2.4"/><circle cx="180.3" cy="253.6" r="2.4"/><circle cx="180.9" cy="253.6" r="2.4"/><circle cx="181.4" cy="253.6" r="2.4"/><circle cx="182" cy="253.6" r="2.4"/><circle cx="182.5" cy="253.6" r="2.4"/><circle cx="183.1" cy="253.6" r="2.4"/><circle cx="183.6" cy="253.6" r="2.4"/><circle cx="184.2" cy="253.6" r="2.4"/><circle cx="184.8" cy="253.6" r="2.4"/><circle cx="185.3" cy="253.6" r="2.4"/><circle cx="185.8" cy="253.6" r="2.4"/><circle cx="186.4" cy="253.6" r="2.4"/><circle cx="186.9" cy="253.6" r="2.4"/><circle cx="187.5" cy="253.6" r="2.4"/><circle cx="188" cy="253.6" r="2.4"/><circle cx="188.6" cy="253.6" r="2.4"/><circle cx="189.1" cy="253.6" r="2.4"/><circle cx="189.7" cy="253.6" r="2.4"/><circle cx="117" cy="251.7" r="2.4"/><circle cx="117.5" cy="251.7" r="2.4"/><circle cx="118.1" cy="251.7" r="2.4"/><circle cx="118.7" cy="251.7" r="2.4"/><circle cx="119.2" cy="251.7" r="2.4"/><circle cx="119.8" cy="251.7" r="2.4"/><circle cx="120.3" cy="251.7" r="2.4"/><circle cx="120.8" cy="251.7" r="2.4"/><circle cx="121.4" cy="251.7" r="2.4"/><circle cx="122" cy="251.7" r="2.4"/><circle cx="122.5" cy="251.7" r="2.4"/><circle cx="123" cy="251.7" r="2.4"/><circle cx="123.6" cy="251.7" r="2.4"/><circle cx="124.2" cy="251.7" r="2.4"/><circle cx="124.7" cy="251.7" r="2.4"/><circle cx="125.2" cy="251.7" r="2.4"/><circle cx="125.8" cy="251.7" r="2.4"/><circle cx="126.3" cy="251.7" r="2.4"/><circle cx="126.9" cy="251.7" r="2.4"/><circle cx="127.5" cy="251.7" r="2.4"/><circle cx="128" cy="251.7" r="2.4"/><circle cx="128.6" cy="251.7" r="2.4"/><circle cx="129.1" cy="251.7" r="2.4"/><circle cx="129.7" cy="251.7" r="2.4"/><circle cx="130.2" cy="251.7" r="2.4"/><circle cx="130.8" cy="251.7" r="2.4"/><circle cx="131.3" cy="251.7" r="2.4"/><circle cx="131.8" cy="251.7" r="2.4"/><circle cx="132.4" cy="251.7" r="2.4"/><circle cx="132.9" cy="251.7" r="2.4"/><circle cx="133.5" cy="251.7" r="2.4"/><circle cx="134.1" cy="251.7" r="2.4"/><circle cx="134.6" cy="251.7" r="2.4"/><circle cx="135.2" cy="251.7" r="2.4"/><circle cx="135.7" cy="251.7" r="2.4"/><circle cx="136.2" cy="251.7" r="2.4"/><circle cx="136.8" cy="251.7" r="2.4"/><circle cx="137.3" cy="251.7" r="2.4"/><circle cx="137.9" cy="251.7" r="2.4"/><circle cx="138.4" cy="251.7" r="2.4"/><circle cx="139" cy="251.7" r="2.4"/><circle cx="139.6" cy="251.7" r="2.4"/><circle cx="140.1" cy="251.7" r="2.4"/><circle cx="140.7" cy="251.7" r="2.4"/><circle cx="141.2" cy="251.7" r="2.4"/><circle cx="141.8" cy="251.7" r="2.4"/><circle cx="142.3" cy="251.7" r="2.4"/><circle cx="142.8" cy="251.7" r="2.4"/><circle cx="143.4" cy="251.7" r="2.4"/><circle cx="143.9" cy="251.7" r="2.4"/><circle cx="144.5" cy="251.7" r="2.4"/><circle cx="145.1" cy="251.7" r="2.4"/><circle cx="145.6" cy="251.7" r="2.4"/><circle cx="146.2" cy="251.7" r="2.4"/><circle cx="146.7" cy="251.7" r="2.4"/><circle cx="147.2" cy="251.7" r="2.4"/><circle cx="147.8" cy="251.7" r="2.4"/><circle cx="148.3" cy="251.7" r="2.4"/><circle cx="148.9" cy="251.7" r="2.4"/><circle cx="149.4" cy="251.7" r="2.4"/><circle cx="150" cy="251.7" r="2.4"/><circle cx="150.6" cy="251.7" r="2.4"/><circle cx="151.1" cy="251.7" r="2.4"/><circle cx="151.7" cy="251.7" r="2.4"/><circle cx="152.2" cy="251.7" r="2.4"/><circle cx="152.8" cy="251.7" r="2.4"/><circle cx="153.3" cy="251.7" r="2.4"/><circle cx="153.8" cy="251.7" r="2.4"/><circle cx="154.4" cy="251.7" r="2.4"/><circle cx="156.1" cy="249.8" r="2.4"/><circle cx="156.7" cy="249.8" r="2.4"/><circle cx="157.2" cy="249.8" r="2.4"/><circle cx="157.8" cy="249.8" r="2.4"/><circle cx="158.3" cy="249.8" r="2.4"/><circle cx="158.9" cy="249.8" r="2.4"/><circle cx="159.4" cy="249.8" r="2.4"/><circle cx="160" cy="249.8" r="2.4"/><circle cx="160.5" cy="249.8" r="2.4"/><circle cx="161.1" cy="249.8" r="2.4"/><circle cx="161.6" cy="249.8" r="2.4"/><circle cx="162.2" cy="249.8" r="2.4"/><circle cx="162.8" cy="249.8" r="2.4"/><circle cx="163.3" cy="249.8" r="2.4"/><circle cx="163.8" cy="249.8" r="2.4"/><circle cx="164.4" cy="249.8" r="2.4"/><circle cx="164.9" cy="249.8" r="2.4"/><circle cx="165.5" cy="249.8" r="2.4"/><circle cx="166" cy="249.8" r="2.4"/><circle cx="166.6" cy="249.8" r="2.4"/><circle cx="167.1" cy="249.8" r="2.4"/><circle cx="167.7" cy="249.8" r="2.4"/><circle cx="168.2" cy="249.8" r="2.4"/><circle cx="168.8" cy="249.8" r="2.4"/><circle cx="169.3" cy="249.8" r="2.4"/><circle cx="169.9" cy="249.8" r="2.4"/><circle cx="170.4" cy="249.8" r="2.4"/><circle cx="171" cy="249.8" r="2.4"/><circle cx="171.5" cy="249.8" r="2.4"/><circle cx="172.1" cy="249.8" r="2.4"/><circle cx="172.6" cy="249.8" r="2.4"/><circle cx="173.2" cy="249.8" r="2.4"/><circle cx="173.8" cy="249.8" r="2.4"/><circle cx="174.3" cy="249.8" r="2.4"/><circle cx="174.8" cy="249.8" r="2.4"/><circle cx="175.4" cy="249.8" r="2.4"/><circle cx="175.9" cy="249.8" r="2.4"/><circle cx="176.5" cy="249.8" r="2.4"/><circle cx="177" cy="249.8" r="2.4"/><circle cx="177.6" cy="249.8" r="2.4"/><circle cx="178.1" cy="249.8" r="2.4"/><circle cx="178.7" cy="249.8" r="2.4"/><circle cx="179.2" cy="249.8" r="2.4"/><circle cx="179.8" cy="249.8" r="2.4"/><circle cx="180.3" cy="249.8" r="2.4"/><circle cx="180.9" cy="249.8" r="2.4"/><circle cx="181.4" cy="249.8" r="2.4"/><circle cx="182" cy="249.8" r="2.4"/><circle cx="182.5" cy="249.8" r="2.4"/><circle cx="183.1" cy="249.8" r="2.4"/><circle cx="183.6" cy="249.8" r="2.4"/><circle cx="184.2" cy="249.8" r="2.4"/><circle cx="184.8" cy="249.8" r="2.4"/><circle cx="185.3" cy="249.8" r="2.4"/><circle cx="185.8" cy="249.8" r="2.4"/><circle cx="186.4" cy="249.8" r="2.4"/><circle cx="186.9" cy="249.8" r="2.4"/><circle cx="187.5" cy="249.8" r="2.4"/><circle cx="188" cy="249.8" r="2.4"/><circle cx="188.6" cy="249.8" r="2.4"/><circle cx="189.1" cy="249.8" r="2.4"/><circle cx="189.7" cy="249.8" r="2.4"/><circle cx="117" cy="247.9" r="2.4"/><circle cx="117.6" cy="247.9" r="2.4"/><circle cx="118.2" cy="247.9" r="2.4"/><circle cx="118.7" cy="247.9" r="2.4"/><circle cx="119.3" cy="247.9" r="2.4"/><circle cx="119.9" cy="247.9" r="2.4"/><circle cx="120.5" cy="247.9" r="2.4"/><circle cx="121.1" cy="247.9" r="2.4"/><circle cx="121.6" cy="247.9" r="2.4"/><circle cx="122.2" cy="247.9" r="2.4"/><circle cx="122.8" cy="247.9" r="2.4"/><circle cx="123.4" cy="247.9" r="2.4"/><circle cx="124" cy="247.9" r="2.4"/><circle cx="124.5" cy="247.9" r="2.4"/><circle cx="125.1" cy="247.9" r="2.4"/><circle cx="125.7" cy="247.9" r="2.4"/><circle cx="126.3" cy="247.9" r="2.4"/><circle cx="126.9" cy="247.9" r="2.4"/><circle cx="127.4" cy="247.9" r="2.4"/><circle cx="128" cy="247.9" r="2.4"/><circle cx="128.6" cy="247.9" r="2.4"/><circle cx="129.2" cy="247.9" r="2.4"/><circle cx="129.8" cy="247.9" r="2.4"/><circle cx="130.3" cy="247.9" r="2.4"/><circle cx="130.9" cy="247.9" r="2.4"/><circle cx="131.5" cy="247.9" r="2.4"/><circle cx="132.1" cy="247.9" r="2.4"/><circle cx="132.7" cy="247.9" r="2.4"/><circle cx="133.2" cy="247.9" r="2.4"/><circle cx="133.8" cy="247.9" r="2.4"/><circle cx="134.4" cy="247.9" r="2.4"/><circle cx="135" cy="247.9" r="2.4"/><circle cx="135.6" cy="247.9" r="2.4"/><circle cx="136.1" cy="247.9" r="2.4"/><circle cx="136.7" cy="247.9" r="2.4"/><circle cx="137.3" cy="247.9" r="2.4"/><circle cx="137.9" cy="247.9" r="2.4"/><circle cx="138.5" cy="247.9" r="2.4"/><circle cx="139" cy="247.9" r="2.4"/><circle cx="139.6" cy="247.9" r="2.4"/><circle cx="140.2" cy="247.9" r="2.4"/><circle cx="140.8" cy="247.9" r="2.4"/><circle cx="141.4" cy="247.9" r="2.4"/><circle cx="141.9" cy="247.9" r="2.4"/><circle cx="142.5" cy="247.9" r="2.4"/><circle cx="143.1" cy="247.9" r="2.4"/><circle cx="143.7" cy="247.9" r="2.4"/><circle cx="144.3" cy="247.9" r="2.4"/><circle cx="144.8" cy="247.9" r="2.4"/><circle cx="145.4" cy="247.9" r="2.4"/><circle cx="146" cy="247.9" r="2.4"/><circle cx="146.6" cy="247.9" r="2.4"/><circle cx="147.2" cy="247.9" r="2.4"/><circle cx="147.7" cy="247.9" r="2.4"/><circle cx="148.3" cy="247.9" r="2.4"/><circle cx="148.9" cy="247.9" r="2.4"/><circle cx="149.5" cy="247.9" r="2.4"/><circle cx="150.1" cy="247.9" r="2.4"/><circle cx="150.6" cy="247.9" r="2.4"/><circle cx="151.2" cy="247.9" r="2.4"/><circle cx="151.8" cy="247.9" r="2.4"/><circle cx="152.4" cy="247.9" r="2.4"/><circle cx="153" cy="247.9" r="2.4"/><circle cx="154.9" cy="246" r="2.4"/><circle cx="155.5" cy="246" r="2.4"/><circle cx="156.1" cy="246" r="2.4"/><circle cx="156.6" cy="246" r="2.4"/><circle cx="157.2" cy="246" r="2.4"/><circle cx="157.8" cy="246" r="2.4"/><circle cx="158.4" cy="246" r="2.4"/><circle cx="159" cy="246" r="2.4"/><circle cx="159.5" cy="246" r="2.4"/><circle cx="160.1" cy="246" r="2.4"/><circle cx="160.7" cy="246" r="2.4"/><circle cx="161.3" cy="246" r="2.4"/><circle cx="161.9" cy="246" r="2.4"/><circle cx="162.4" cy="246" r="2.4"/><circle cx="163" cy="246" r="2.4"/><circle cx="163.6" cy="246" r="2.4"/><circle cx="164.2" cy="246" r="2.4"/><circle cx="164.8" cy="246" r="2.4"/><circle cx="165.3" cy="246" r="2.4"/><circle cx="165.9" cy="246" r="2.4"/><circle cx="166.5" cy="246" r="2.4"/><circle cx="167.1" cy="246" r="2.4"/><circle cx="167.7" cy="246" r="2.4"/><circle cx="168.2" cy="246" r="2.4"/><circle cx="168.8" cy="246" r="2.4"/><circle cx="169.4" cy="246" r="2.4"/><circle cx="170" cy="246" r="2.4"/><circle cx="170.6" cy="246" r="2.4"/><circle cx="171.1" cy="246" r="2.4"/><circle cx="171.7" cy="246" r="2.4"/><circle cx="172.3" cy="246" r="2.4"/><circle cx="172.9" cy="246" r="2.4"/><circle cx="173.5" cy="246" r="2.4"/><circle cx="174" cy="246" r="2.4"/><circle cx="174.6" cy="246" r="2.4"/><circle cx="175.2" cy="246" r="2.4"/><circle cx="175.8" cy="246" r="2.4"/><circle cx="176.4" cy="246" r="2.4"/><circle cx="176.9" cy="246" r="2.4"/><circle cx="177.5" cy="246" r="2.4"/><circle cx="178.1" cy="246" r="2.4"/><circle cx="178.7" cy="246" r="2.4"/><circle cx="179.3" cy="246" r="2.4"/><circle cx="179.8" cy="246" r="2.4"/><circle cx="180.4" cy="246" r="2.4"/><circle cx="181" cy="246" r="2.4"/><circle cx="181.6" cy="246" r="2.4"/><circle cx="182.2" cy="246" r="2.4"/><circle cx="182.7" cy="246" r="2.4"/><circle cx="183.3" cy="246" r="2.4"/><circle cx="183.9" cy="246" r="2.4"/><circle cx="184.5" cy="246" r="2.4"/><circle cx="185.1" cy="246" r="2.4"/><circle cx="185.6" cy="246" r="2.4"/><circle cx="186.2" cy="246" r="2.4"/><circle cx="186.8" cy="246" r="2.4"/><circle cx="187.4" cy="246" r="2.4"/><circle cx="188" cy="246" r="2.4"/><circle cx="188.5" cy="246" r="2.4"/><circle cx="189.1" cy="246" r="2.4"/><circle cx="189.7" cy="246" r="2.4"/><circle cx="117" cy="244.1" r="2.4"/><circle cx="117.8" cy="244.1" r="2.4"/><circle cx="118.6" cy="244.1" r="2.4"/><circle cx="119.4" cy="244.1" r="2.4"/><circle cx="120.2" cy="244.1" r="2.4"/><circle cx="121" cy="244.1" r="2.4"/><circle cx="121.8" cy="244.1" r="2.4"/><circle cx="122.6" cy="244.1" r="2.4"/><circle cx="123.4" cy="244.1" r="2.4"/><circle cx="124.2" cy="244.1" r="2.4"/><circle cx="125" cy="244.1" r="2.4"/><circle cx="125.8" cy="244.1" r="2.4"/><circle cx="126.6" cy="244.1" r="2.4"/><circle cx="127.4" cy="244.1" r="2.4"/><circle cx="128.2" cy="244.1" r="2.4"/><circle cx="129" cy="244.1" r="2.4"/><circle cx="129.8" cy="244.1" r="2.4"/><circle cx="130.6" cy="244.1" r="2.4"/><circle cx="131.4" cy="244.1" r="2.4"/><circle cx="132.2" cy="244.1" r="2.4"/><circle cx="133" cy="244.1" r="2.4"/><circle cx="133.8" cy="244.1" r="2.4"/><circle cx="134.6" cy="244.1" r="2.4"/><circle cx="135.4" cy="244.1" r="2.4"/><circle cx="136.2" cy="244.1" r="2.4"/><circle cx="137" cy="244.1" r="2.4"/><circle cx="137.8" cy="244.1" r="2.4"/><circle cx="138.6" cy="244.1" r="2.4"/><circle cx="139.4" cy="244.1" r="2.4"/><circle cx="140.2" cy="244.1" r="2.4"/><circle cx="141" cy="244.1" r="2.4"/><circle cx="141.8" cy="244.1" r="2.4"/><circle cx="142.6" cy="244.1" r="2.4"/><circle cx="143.4" cy="244.1" r="2.4"/><circle cx="144.2" cy="244.1" r="2.4"/><circle cx="145" cy="244.1" r="2.4"/><circle cx="145.8" cy="244.1" r="2.4"/><circle cx="146.6" cy="244.1" r="2.4"/><circle cx="147.4" cy="244.1" r="2.4"/><circle cx="148.2" cy="244.1" r="2.4"/><circle cx="150.5" cy="242.2" r="2.4"/><circle cx="151.3" cy="242.2" r="2.4"/><circle cx="152.1" cy="242.2" r="2.4"/><circle cx="152.9" cy="242.2" r="2.4"/><circle cx="153.7" cy="242.2" r="2.4"/><circle cx="154.5" cy="242.2" r="2.4"/><circle cx="155.3" cy="242.2" r="2.4"/><circle cx="156.1" cy="242.2" r="2.4"/><circle cx="156.9" cy="242.2" r="2.4"/><circle cx="157.7" cy="242.2" r="2.4"/><circle cx="158.5" cy="242.2" r="2.4"/><circle cx="159.3" cy="242.2" r="2.4"/><circle cx="160.1" cy="242.2" r="2.4"/><circle cx="160.9" cy="242.2" r="2.4"/><circle cx="161.7" cy="242.2" r="2.4"/><circle cx="162.5" cy="242.2" r="2.4"/><circle cx="163.3" cy="242.2" r="2.4"/><circle cx="164.1" cy="242.2" r="2.4"/><circle cx="164.9" cy="242.2" r="2.4"/><circle cx="165.7" cy="242.2" r="2.4"/><circle cx="166.5" cy="242.2" r="2.4"/><circle cx="167.3" cy="242.2" r="2.4"/><circle cx="168.1" cy="242.2" r="2.4"/><circle cx="168.9" cy="242.2" r="2.4"/><circle cx="169.7" cy="242.2" r="2.4"/><circle cx="170.5" cy="242.2" r="2.4"/><circle cx="171.3" cy="242.2" r="2.4"/><circle cx="172.1" cy="242.2" r="2.4"/><circle cx="172.9" cy="242.2" r="2.4"/><circle cx="173.7" cy="242.2" r="2.4"/><circle cx="174.5" cy="242.2" r="2.4"/><circle cx="175.3" cy="242.2" r="2.4"/><circle cx="176.1" cy="242.2" r="2.4"/><circle cx="176.9" cy="242.2" r="2.4"/><circle cx="177.7" cy="242.2" r="2.4"/><circle cx="178.5" cy="242.2" r="2.4"/><circle cx="179.3" cy="242.2" r="2.4"/><circle cx="180.1" cy="242.2" r="2.4"/><circle cx="180.9" cy="242.2" r="2.4"/><circle cx="181.7" cy="242.2" r="2.4"/><circle cx="182.5" cy="242.2" r="2.4"/><circle cx="183.3" cy="242.2" r="2.4"/><circle cx="184.1" cy="242.2" r="2.4"/><circle cx="184.9" cy="242.2" r="2.4"/><circle cx="185.7" cy="242.2" r="2.4"/><circle cx="186.5" cy="242.2" r="2.4"/><circle cx="187.3" cy="242.2" r="2.4"/><circle cx="188.1" cy="242.2" r="2.4"/><circle cx="188.9" cy="242.2" r="2.4"/><circle cx="189.7" cy="242.2" r="2.4"/><circle cx="117" cy="240.3" r="2.4"/><circle cx="118.1" cy="240.3" r="2.4"/><circle cx="119.2" cy="240.3" r="2.4"/><circle cx="120.3" cy="240.3" r="2.4"/><circle cx="121.4" cy="240.3" r="2.4"/><circle cx="122.5" cy="240.3" r="2.4"/><circle cx="123.6" cy="240.3" r="2.4"/><circle cx="124.7" cy="240.3" r="2.4"/><circle cx="125.8" cy="240.3" r="2.4"/><circle cx="126.9" cy="240.3" r="2.4"/><circle cx="128" cy="240.3" r="2.4"/><circle cx="129.1" cy="240.3" r="2.4"/><circle cx="130.2" cy="240.3" r="2.4"/><circle cx="131.3" cy="240.3" r="2.4"/><circle cx="132.4" cy="240.3" r="2.4"/><circle cx="133.5" cy="240.3" r="2.4"/><circle cx="134.6" cy="240.3" r="2.4"/><circle cx="135.7" cy="240.3" r="2.4"/><circle cx="136.8" cy="240.3" r="2.4"/><circle cx="137.9" cy="240.3" r="2.4"/><circle cx="139" cy="240.3" r="2.4"/><circle cx="140.1" cy="240.3" r="2.4"/><circle cx="141.2" cy="240.3" r="2.4"/><circle cx="142.3" cy="240.3" r="2.4"/><circle cx="143.4" cy="240.3" r="2.4"/><circle cx="144.5" cy="240.3" r="2.4"/><circle cx="145.6" cy="240.3" r="2.4"/><circle cx="146.7" cy="240.3" r="2.4"/><circle cx="147.8" cy="240.3" r="2.4"/><circle cx="148.9" cy="240.3" r="2.4"/><circle cx="150" cy="240.3" r="2.4"/><circle cx="151.1" cy="240.3" r="2.4"/><circle cx="152.2" cy="240.3" r="2.4"/><circle cx="153.3" cy="240.3" r="2.4"/><circle cx="154.4" cy="240.3" r="2.4"/><circle cx="156.7" cy="238.4" r="2.4"/><circle cx="157.7" cy="238.4" r="2.4"/><circle cx="158.7" cy="238.4" r="2.4"/><circle cx="159.7" cy="238.4" r="2.4"/><circle cx="160.7" cy="238.4" r="2.4"/><circle cx="161.7" cy="238.4" r="2.4"/><circle cx="162.7" cy="238.4" r="2.4"/><circle cx="163.7" cy="238.4" r="2.4"/><circle cx="164.7" cy="238.4" r="2.4"/><circle cx="165.7" cy="238.4" r="2.4"/><circle cx="166.7" cy="238.4" r="2.4"/><circle cx="167.7" cy="238.4" r="2.4"/><circle cx="168.7" cy="238.4" r="2.4"/><circle cx="169.7" cy="238.4" r="2.4"/><circle cx="170.7" cy="238.4" r="2.4"/><circle cx="171.7" cy="238.4" r="2.4"/><circle cx="172.7" cy="238.4" r="2.4"/><circle cx="173.7" cy="238.4" r="2.4"/><circle cx="174.7" cy="238.4" r="2.4"/><circle cx="175.7" cy="238.4" r="2.4"/><circle cx="176.7" cy="238.4" r="2.4"/><circle cx="177.7" cy="238.4" r="2.4"/><circle cx="178.7" cy="238.4" r="2.4"/><circle cx="179.7" cy="238.4" r="2.4"/><circle cx="180.7" cy="238.4" r="2.4"/><circle cx="181.7" cy="238.4" r="2.4"/><circle cx="182.7" cy="238.4" r="2.4"/><circle cx="183.7" cy="238.4" r="2.4"/><circle cx="184.7" cy="238.4" r="2.4"/><circle cx="185.7" cy="238.4" r="2.4"/><circle cx="186.7" cy="238.4" r="2.4"/><circle cx="187.7" cy="238.4" r="2.4"/><circle cx="188.7" cy="238.4" r="2.4"/><circle cx="189.7" cy="238.4" r="2.4"/><circle cx="117" cy="236.5" r="2.4"/><circle cx="118.5" cy="236.5" r="2.4"/><circle cx="120.1" cy="236.5" r="2.4"/><circle cx="121.7" cy="236.5" r="2.4"/><circle cx="123.2" cy="236.5" r="2.4"/><circle cx="124.8" cy="236.5" r="2.4"/><circle cx="126.3" cy="236.5" r="2.4"/><circle cx="127.8" cy="236.5" r="2.4"/><circle cx="129.4" cy="236.5" r="2.4"/><circle cx="130.9" cy="236.5" r="2.4"/><circle cx="132.5" cy="236.5" r="2.4"/><circle cx="134.1" cy="236.5" r="2.4"/><circle cx="135.6" cy="236.5" r="2.4"/><circle cx="137.2" cy="236.5" r="2.4"/><circle cx="138.7" cy="236.5" r="2.4"/><circle cx="140.2" cy="236.5" r="2.4"/><circle cx="141.8" cy="236.5" r="2.4"/><circle cx="143.3" cy="236.5" r="2.4"/><circle cx="144.9" cy="236.5" r="2.4"/><circle cx="146.4" cy="236.5" r="2.4"/><circle cx="148" cy="236.5" r="2.4"/><circle cx="149.6" cy="236.5" r="2.4"/><circle cx="151.1" cy="236.5" r="2.4"/><circle cx="153.3" cy="234.6" r="2.4"/><circle cx="154.6" cy="234.6" r="2.4"/><circle cx="155.9" cy="234.6" r="2.4"/><circle cx="157.2" cy="234.6" r="2.4"/><circle cx="158.5" cy="234.6" r="2.4"/><circle cx="159.8" cy="234.6" r="2.4"/><circle cx="161.1" cy="234.6" r="2.4"/><circle cx="162.4" cy="234.6" r="2.4"/><circle cx="163.7" cy="234.6" r="2.4"/><circle cx="165" cy="234.6" r="2.4"/><circle cx="166.3" cy="234.6" r="2.4"/><circle cx="167.6" cy="234.6" r="2.4"/><circle cx="168.9" cy="234.6" r="2.4"/><circle cx="170.2" cy="234.6" r="2.4"/><circle cx="171.5" cy="234.6" r="2.4"/><circle cx="172.8" cy="234.6" r="2.4"/><circle cx="174.1" cy="234.6" r="2.4"/><circle cx="175.4" cy="234.6" r="2.4"/><circle cx="176.7" cy="234.6" r="2.4"/><circle cx="178" cy="234.6" r="2.4"/><circle cx="179.3" cy="234.6" r="2.4"/><circle cx="180.6" cy="234.6" r="2.4"/><circle cx="181.9" cy="234.6" r="2.4"/><circle cx="183.2" cy="234.6" r="2.4"/><circle cx="184.5" cy="234.6" r="2.4"/><circle cx="185.8" cy="234.6" r="2.4"/><circle cx="187.1" cy="234.6" r="2.4"/><circle cx="188.4" cy="234.6" r="2.4"/><circle cx="189.7" cy="234.6" r="2.4"/><circle cx="117" cy="232.7" r="2.4"/><circle cx="118.5" cy="232.7" r="2.4"/><circle cx="119.9" cy="232.7" r="2.4"/><circle cx="121.3" cy="232.7" r="2.4"/><circle cx="122.8" cy="232.7" r="2.4"/><circle cx="124.2" cy="232.7" r="2.4"/><circle cx="125.7" cy="232.7" r="2.4"/><circle cx="127.2" cy="232.7" r="2.4"/><circle cx="128.6" cy="232.7" r="2.4"/><circle cx="130.1" cy="232.7" r="2.4"/><circle cx="131.5" cy="232.7" r="2.4"/><circle cx="132.9" cy="232.7" r="2.4"/><circle cx="134.4" cy="232.7" r="2.4"/><circle cx="135.8" cy="232.7" r="2.4"/><circle cx="137.3" cy="232.7" r="2.4"/><circle cx="138.8" cy="232.7" r="2.4"/><circle cx="140.2" cy="232.7" r="2.4"/><circle cx="141.7" cy="232.7" r="2.4"/><circle cx="143.1" cy="232.7" r="2.4"/><circle cx="144.6" cy="232.7" r="2.4"/><circle cx="146" cy="232.7" r="2.4"/><circle cx="147.4" cy="232.7" r="2.4"/><circle cx="148.9" cy="232.7" r="2.4"/><circle cx="150.3" cy="232.7" r="2.4"/><circle cx="151.8" cy="232.7" r="2.4"/><circle cx="153.2" cy="232.7" r="2.4"/><circle cx="154.7" cy="232.7" r="2.4"/><circle cx="157.3" cy="230.8" r="2.4"/><circle cx="158.6" cy="230.8" r="2.4"/><circle cx="160" cy="230.8" r="2.4"/><circle cx="161.3" cy="230.8" r="2.4"/><circle cx="162.7" cy="230.8" r="2.4"/><circle cx="164" cy="230.8" r="2.4"/><circle cx="165.4" cy="230.8" r="2.4"/><circle cx="166.8" cy="230.8" r="2.4"/><circle cx="168.1" cy="230.8" r="2.4"/><circle cx="169.4" cy="230.8" r="2.4"/><circle cx="170.8" cy="230.8" r="2.4"/><circle cx="172.1" cy="230.8" r="2.4"/><circle cx="173.5" cy="230.8" r="2.4"/><circle cx="174.8" cy="230.8" r="2.4"/><circle cx="176.2" cy="230.8" r="2.4"/><circle cx="177.5" cy="230.8" r="2.4"/><circle cx="178.9" cy="230.8" r="2.4"/><circle cx="180.2" cy="230.8" r="2.4"/><circle cx="181.6" cy="230.8" r="2.4"/><circle cx="182.9" cy="230.8" r="2.4"/><circle cx="184.3" cy="230.8" r="2.4"/><circle cx="185.6" cy="230.8" r="2.4"/><circle cx="187" cy="230.8" r="2.4"/><circle cx="188.3" cy="230.8" r="2.4"/><circle cx="189.7" cy="230.8" r="2.4"/><circle cx="118.3" cy="228.9" r="2.4"/><circle cx="120.2" cy="228.9" r="2.4"/><circle cx="122.1" cy="228.9" r="2.4"/><circle cx="124" cy="228.9" r="2.4"/><circle cx="125.9" cy="228.9" r="2.4"/><circle cx="127.8" cy="228.9" r="2.4"/><circle cx="129.7" cy="228.9" r="2.4"/><circle cx="131.6" cy="228.9" r="2.4"/><circle cx="133.5" cy="228.9" r="2.4"/><circle cx="135.4" cy="228.9" r="2.4"/><circle cx="137.3" cy="228.9" r="2.4"/><circle cx="139.2" cy="228.9" r="2.4"/><circle cx="141.1" cy="228.9" r="2.4"/><circle cx="143" cy="228.9" r="2.4"/><circle cx="144.9" cy="228.9" r="2.4"/><circle cx="146.8" cy="228.9" r="2.4"/><circle cx="148.7" cy="228.9" r="2.4"/><circle cx="150.6" cy="228.9" r="2.4"/><circle cx="152.5" cy="228.9" r="2.4"/><circle cx="156.1" cy="227" r="2.4"/><circle cx="158.4" cy="227" r="2.4"/><circle cx="160.7" cy="227" r="2.4"/><circle cx="163" cy="227" r="2.4"/><circle cx="165.3" cy="227" r="2.4"/><circle cx="167.6" cy="227" r="2.4"/><circle cx="169.9" cy="227" r="2.4"/><circle cx="172.2" cy="227" r="2.4"/><circle cx="174.5" cy="227" r="2.4"/><circle cx="176.8" cy="227" r="2.4"/><circle cx="179.1" cy="227" r="2.4"/><circle cx="181.4" cy="227" r="2.4"/><circle cx="183.7" cy="227" r="2.4"/><circle cx="186" cy="227" r="2.4"/><circle cx="188.3" cy="227" r="2.4"/><circle cx="118.3" cy="225.1" r="2.4"/><circle cx="122.2" cy="225.1" r="2.4"/><circle cx="126.1" cy="225.1" r="2.4"/><circle cx="130" cy="225.1" r="2.4"/><circle cx="133.9" cy="225.1" r="2.4"/><circle cx="137.8" cy="225.1" r="2.4"/><circle cx="141.7" cy="225.1" r="2.4"/><circle cx="145.6" cy="225.1" r="2.4"/><circle cx="149.5" cy="225.1" r="2.4"/><circle cx="157.1" cy="223.2" r="2.4"/><circle cx="161" cy="223.2" r="2.4"/><circle cx="164.9" cy="223.2" r="2.4"/><circle cx="168.8" cy="223.2" r="2.4"/><circle cx="172.7" cy="223.2" r="2.4"/><circle cx="176.6" cy="223.2" r="2.4"/><circle cx="180.5" cy="223.2" r="2.4"/><circle cx="184.4" cy="223.2" r="2.4"/><circle cx="188.3" cy="223.2" r="2.4"/><circle cx="118.3" cy="221.3" r="2.4"/><circle cx="122.6" cy="221.3" r="2.4"/><circle cx="126.9" cy="221.3" r="2.4"/><circle cx="131.2" cy="221.3" r="2.4"/><circle cx="135.5" cy="221.3" r="2.4"/><circle cx="139.8" cy="221.3" r="2.4"/><circle cx="144.1" cy="221.3" r="2.4"/><circle cx="148.4" cy="221.3" r="2.4"/><circle cx="152.7" cy="221.3" r="2.4"/><circle cx="157.9" cy="219.4" r="2.4"/><circle cx="162.2" cy="219.4" r="2.4"/><circle cx="166.6" cy="219.4" r="2.4"/><circle cx="170.9" cy="219.4" r="2.4"/><circle cx="175.2" cy="219.4" r="2.4"/><circle cx="179.6" cy="219.4" r="2.4"/><circle cx="184" cy="219.4" r="2.4"/><circle cx="188.3" cy="219.4" r="2.4"/><circle cx="137.2" cy="217.4" r="2.4"/><circle cx="141.8" cy="217.4" r="2.4"/><circle cx="146.4" cy="217.4" r="2.4"/><circle cx="150.9" cy="217.4" r="2.4"/><circle cx="155.5" cy="216.3" r="2.4"/><circle cx="160.1" cy="216.3" r="2.4"/><circle cx="164.7" cy="216.3" r="2.4"/><circle cx="168.5" cy="216.3" r="2.4"/><circle cx="129.9" cy="213.2" r="2.4"/><circle cx="134.9" cy="213.2" r="2.4"/><circle cx="139.9" cy="213.2" r="2.4"/><circle cx="145.3" cy="213.2" r="2.4"/><circle cx="150.2" cy="213.2" r="2.4"/><circle cx="162.4" cy="211.7" r="2.4"/><circle cx="167.3" cy="211.7" r="2.4"/><circle cx="172.6" cy="211.7" r="2.4"/><circle cx="177.6" cy="211.7" r="2.4"/><circle cx="157.8" cy="211.7" r="2.4"/><circle cx="153.2" cy="210.2" r="2.4"/><circle cx="148.6" cy="209.4" r="2.4"/><circle cx="158.6" cy="207.9" r="2.4"/><circle cx="154" cy="205.6" r="2.4"/><circle cx="148.6" cy="205.6" r="2.4"/><circle cx="159.3" cy="204.1" r="2.4"/><circle cx="151.2" cy="201.8" r="2.4"/><circle cx="155.5" cy="200.3" r="2.4"/><circle cx="150.9" cy="196.5" r="2.4"/><circle cx="156.3" cy="194.5" r="2.4"/><circle cx="153.5" cy="190.6" r="2.4"/><circle cx="153.5" cy="161" r="2.4"/></g>
<g fill="#fff" stroke="#1c1c1c" stroke-width=".88"><use href="#s" x="302.3" y="181.5"/><use href="#s" x="302.3" y="168.6"/><use href="#s" x="302.3" y="158.7"/><use href="#s" x="302.3" y="152.8"/><use href="#s" x="299.7" y="134.3"/><use href="#s" x="305.2" y="132"/><use href="#s" x="302.3" y="125"/><use href="#s" x="299.7" y="120.5"/><use href="#s" x="305.2" y="120.5"/><use href="#s" x="299.7" y="110"/><use href="#s" x="305.2" y="110"/><use href="#s" x="297" y="102"/><use href="#s" x="302.3" y="102"/><use href="#s" x="308.2" y="99.8"/><use href="#s" x="297" y="98"/><use href="#s" x="302.3" y="98"/><use href="#s" x="294.4" y="94.8"/><use href="#s" x="299.7" y="94.8"/><use href="#s" x="305" y="95.4"/><use href="#s" x="309.5" y="94.4"/><use href="#s" x="286.5" y="91.5"/><use href="#s" x="291.8" y="91.5"/><use href="#s" x="297" y="91.5"/><use href="#s" x="302" y="91.5"/><use href="#s" x="307.5" y="91.5"/><use href="#s" x="312.8" y="91.5"/><use href="#s" x="318.8" y="91.5"/><use href="#s" x="285.8" y="88.6"/><use href="#s" x="291" y="88.6"/><use href="#s" x="296.8" y="88.6"/><use href="#s" x="302.2" y="88.6"/><use href="#s" x="308" y="88.6"/><use href="#s" x="313.5" y="88.6"/><use href="#s" x="319.4" y="88.6"/><use href="#s" x="288" y="86"/><use href="#s" x="293.7" y="86"/><use href="#s" x="299.7" y="86"/><use href="#s" x="305" y="86"/><use href="#s" x="311" y="86"/><use href="#s" x="316.5" y="86"/><use href="#s" x="321.5" y="86"/><use href="#s" x="289" y="82.9"/><use href="#s" x="294.6" y="82.9"/><use href="#s" x="299.7" y="82.9"/><use href="#s" x="305" y="82.9"/><use href="#s" x="310.4" y="82.9"/><use href="#s" x="316" y="82.9"/><use href="#s" x="267" y="79.6"/><use href="#s" x="269.9" y="79.6"/><use href="#s" x="272.8" y="79.6"/><use href="#s" x="275.7" y="79.6"/><use href="#s" x="278.6" y="79.6"/><use href="#s" x="281.5" y="79.6"/><use href="#s" x="284.4" y="79.6"/><use href="#s" x="287.3" y="79.6"/><use href="#s" x="290.5" y="78.6"/><use href="#s" x="293" y="78.6"/><use href="#s" x="295.5" y="78.6"/><use href="#s" x="298" y="78.6"/><use href="#s" x="300.5" y="78.6"/><use href="#s" x="303" y="78.6"/><use href="#s" x="305.5" y="78.6"/><use href="#s" x="308" y="78.6"/><use href="#s" x="310.5" y="78.6"/><use href="#s" x="313" y="78.6"/><use href="#s" x="315.5" y="78.6"/><use href="#s" x="318" y="78.6"/><use href="#s" x="320.5" y="78.6"/><use href="#s" x="323" y="78.6"/><use href="#s" x="325.5" y="78.6"/><use href="#s" x="328" y="78.6"/><use href="#s" x="330.5" y="78.6"/><use href="#s" x="333" y="78.6"/><use href="#s" x="335.5" y="78.6"/><use href="#s" x="338" y="78.6"/><use href="#s" x="340.5" y="78.6"/><use href="#s" x="265.5" y="75.2"/><use href="#s" x="266.5" y="75.2"/><use href="#s" x="267.5" y="75.2"/><use href="#s" x="268.5" y="75.2"/><use href="#s" x="269.5" y="75.2"/><use href="#s" x="270.5" y="75.2"/><use href="#s" x="271.5" y="75.2"/><use href="#s" x="272.5" y="75.2"/><use href="#s" x="273.5" y="75.2"/><use href="#s" x="274.5" y="75.2"/><use href="#s" x="275.5" y="75.2"/><use href="#s" x="276.5" y="75.2"/><use href="#s" x="277.5" y="75.2"/><use href="#s" x="278.5" y="75.2"/><use href="#s" x="279.5" y="75.2"/><use href="#s" x="280.5" y="75.2"/><use href="#s" x="281.5" y="75.2"/><use href="#s" x="282.5" y="75.2"/><use href="#s" x="283.5" y="75.2"/><use href="#s" x="286.1" y="73.4"/><use href="#s" x="286.9" y="73.4"/><use href="#s" x="287.8" y="73.4"/><use href="#s" x="288.6" y="73.4"/><use href="#s" x="289.5" y="73.4"/><use href="#s" x="290.4" y="73.4"/><use href="#s" x="291.2" y="73.4"/><use href="#s" x="292.1" y="73.4"/><use href="#s" x="292.9" y="73.4"/><use href="#s" x="293.8" y="73.4"/><use href="#s" x="294.6" y="73.4"/><use href="#s" x="295.4" y="73.4"/><use href="#s" x="296.3" y="73.4"/><use href="#s" x="297.1" y="73.4"/><use href="#s" x="298" y="73.4"/><use href="#s" x="298.9" y="73.4"/><use href="#s" x="299.7" y="73.4"/><use href="#s" x="300.6" y="73.4"/><use href="#s" x="301.4" y="73.4"/><use href="#s" x="302.2" y="73.4"/><use href="#s" x="303.1" y="73.4"/><use href="#s" x="303.9" y="73.4"/><use href="#s" x="304.8" y="73.4"/><use href="#s" x="305.6" y="73.4"/><use href="#s" x="306.5" y="73.4"/><use href="#s" x="307.4" y="73.4"/><use href="#s" x="308.2" y="73.4"/><use href="#s" x="309.1" y="73.4"/><use href="#s" x="309.9" y="73.4"/><use href="#s" x="310.8" y="73.4"/><use href="#s" x="311.6" y="73.4"/><use href="#s" x="312.4" y="73.4"/><use href="#s" x="313.3" y="73.4"/><use href="#s" x="314.1" y="73.4"/><use href="#s" x="315" y="73.4"/><use href="#s" x="315.9" y="73.4"/><use href="#s" x="316.7" y="73.4"/><use href="#s" x="317.6" y="73.4"/><use href="#s" x="318.4" y="73.4"/><use href="#s" x="319.2" y="73.4"/><use href="#s" x="320.1" y="73.4"/><use href="#s" x="320.9" y="73.4"/><use href="#s" x="321.8" y="73.4"/><use href="#s" x="322.6" y="73.4"/><use href="#s" x="323.5" y="73.4"/><use href="#s" x="324.4" y="73.4"/><use href="#s" x="325.2" y="73.4"/><use href="#s" x="326.1" y="73.4"/><use href="#s" x="326.9" y="73.4"/><use href="#s" x="327.8" y="73.4"/><use href="#s" x="328.6" y="73.4"/><use href="#s" x="329.4" y="73.4"/><use href="#s" x="330.3" y="73.4"/><use href="#s" x="331.1" y="73.4"/><use href="#s" x="332" y="73.4"/><use href="#s" x="332.9" y="73.4"/><use href="#s" x="333.7" y="73.4"/><use href="#s" x="334.6" y="73.4"/><use href="#s" x="335.4" y="73.4"/><use href="#s" x="336.2" y="73.4"/><use href="#s" x="337.1" y="73.4"/><use href="#s" x="337.9" y="73.4"/><use href="#s" x="338.8" y="73.4"/><use href="#s" x="339.6" y="73.4"/><use href="#s" x="340.5" y="73.4"/><use href="#s" x="265.5" y="71.2"/><use href="#s" x="265.9" y="71.2"/><use href="#s" x="266.3" y="71.2"/><use href="#s" x="266.7" y="71.2"/><use href="#s" x="267.1" y="71.2"/><use href="#s" x="267.5" y="71.2"/><use href="#s" x="267.9" y="71.2"/><use href="#s" x="268.3" y="71.2"/><use href="#s" x="268.7" y="71.2"/><use href="#s" x="269.1" y="71.2"/><use href="#s" x="269.5" y="71.2"/><use href="#s" x="269.9" y="71.2"/><use href="#s" x="270.3" y="71.2"/><use href="#s" x="270.7" y="71.2"/><use href="#s" x="271.1" y="71.2"/><use href="#s" x="271.5" y="71.2"/><use href="#s" x="271.9" y="71.2"/><use href="#s" x="272.3" y="71.2"/><use href="#s" x="272.7" y="71.2"/><use href="#s" x="273.1" y="71.2"/><use href="#s" x="273.5" y="71.2"/><use href="#s" x="273.9" y="71.2"/><use href="#s" x="274.3" y="71.2"/><use href="#s" x="274.7" y="71.2"/><use href="#s" x="275.1" y="71.2"/><use href="#s" x="275.5" y="71.2"/><use href="#s" x="275.9" y="71.2"/><use href="#s" x="276.3" y="71.2"/><use href="#s" x="276.7" y="71.2"/><use href="#s" x="277.1" y="71.2"/><use href="#s" x="277.5" y="71.2"/><use href="#s" x="277.9" y="71.2"/><use href="#s" x="278.3" y="71.2"/><use href="#s" x="278.7" y="71.2"/><use href="#s" x="279.1" y="71.2"/><use href="#s" x="279.5" y="71.2"/><use href="#s" x="279.9" y="71.2"/><use href="#s" x="280.3" y="71.2"/><use href="#s" x="280.7" y="71.2"/><use href="#s" x="281.1" y="71.2"/><use href="#s" x="281.5" y="71.2"/><use href="#s" x="281.9" y="71.2"/><use href="#s" x="282.3" y="71.2"/><use href="#s" x="282.7" y="71.2"/><use href="#s" x="283.1" y="71.2"/><use href="#s" x="283.5" y="71.2"/><use href="#s" x="283.9" y="71.2"/><use href="#s" x="284.3" y="71.2"/><use href="#s" x="284.7" y="71.2"/><use href="#s" x="285.1" y="71.2"/><use href="#s" x="285.5" y="71.2"/><use href="#s" x="285.9" y="71.2"/><use href="#s" x="286.3" y="71.2"/><use href="#s" x="286.7" y="71.2"/><use href="#s" x="287.1" y="71.2"/><use href="#s" x="287.5" y="71.2"/><use href="#s" x="287.9" y="71.2"/><use href="#s" x="288.3" y="71.2"/><use href="#s" x="288.7" y="71.2"/><use href="#s" x="289.1" y="71.2"/><use href="#s" x="289.5" y="71.2"/><use href="#s" x="289.9" y="71.2"/><use href="#s" x="290.3" y="71.2"/><use href="#s" x="290.7" y="71.2"/><use href="#s" x="291.1" y="71.2"/><use href="#s" x="291.5" y="71.2"/><use href="#s" x="291.9" y="71.2"/><use href="#s" x="292.3" y="71.2"/><use href="#s" x="292.7" y="71.2"/><use href="#s" x="293.1" y="71.2"/><use href="#s" x="293.5" y="71.2"/><use href="#s" x="293.9" y="71.2"/><use href="#s" x="294.3" y="71.2"/><use href="#s" x="294.7" y="71.2"/><use href="#s" x="295.1" y="71.2"/><use href="#s" x="295.5" y="71.2"/><use href="#s" x="295.9" y="71.2"/><use href="#s" x="296.3" y="71.2"/><use href="#s" x="296.7" y="71.2"/><use href="#s" x="297.1" y="71.2"/><use href="#s" x="297.5" y="71.2"/><use href="#s" x="297.9" y="71.2"/><use href="#s" x="298.3" y="71.2"/><use href="#s" x="298.7" y="71.2"/><use href="#s" x="299.1" y="71.2"/><use href="#s" x="299.5" y="71.2"/><use href="#s" x="299.9" y="71.2"/><use href="#s" x="300.3" y="71.2"/><use href="#s" x="300.7" y="71.2"/><use href="#s" x="301.1" y="71.2"/><use href="#s" x="301.5" y="71.2"/><use href="#s" x="301.9" y="71.2"/><use href="#s" x="302.3" y="71.2"/><use href="#s" x="302.7" y="71.2"/><use href="#s" x="303.1" y="71.2"/><use href="#s" x="303.5" y="71.2"/><use href="#s" x="303.9" y="71.2"/><use href="#s" x="304.3" y="71.2"/><use href="#s" x="304.7" y="71.2"/><use href="#s" x="305.1" y="71.2"/><use href="#s" x="305.5" y="71.2"/><use href="#s" x="305.9" y="71.2"/><use href="#s" x="306.3" y="71.2"/><use href="#s" x="306.7" y="71.2"/><use href="#s" x="307.1" y="71.2"/><use href="#s" x="307.5" y="71.2"/><use href="#s" x="307.9" y="71.2"/><use href="#s" x="308.3" y="71.2"/><use href="#s" x="308.7" y="71.2"/><use href="#s" x="310.5" y="69.5"/><use href="#s" x="310.9" y="69.5"/><use href="#s" x="311.3" y="69.5"/><use href="#s" x="311.7" y="69.5"/><use href="#s" x="312.1" y="69.5"/><use href="#s" x="312.5" y="69.5"/><use href="#s" x="312.9" y="69.5"/><use href="#s" x="313.3" y="69.5"/><use href="#s" x="313.7" y="69.5"/><use href="#s" x="314.1" y="69.5"/><use href="#s" x="314.5" y="69.5"/><use href="#s" x="314.9" y="69.5"/><use href="#s" x="315.3" y="69.5"/><use href="#s" x="315.7" y="69.5"/><use href="#s" x="316.1" y="69.5"/><use href="#s" x="316.5" y="69.5"/><use href="#s" x="316.9" y="69.5"/><use href="#s" x="317.3" y="69.5"/><use href="#s" x="317.7" y="69.5"/><use href="#s" x="318.1" y="69.5"/><use href="#s" x="318.5" y="69.5"/><use href="#s" x="318.9" y="69.5"/><use href="#s" x="319.3" y="69.5"/><use href="#s" x="319.7" y="69.5"/><use href="#s" x="320.1" y="69.5"/><use href="#s" x="320.5" y="69.5"/><use href="#s" x="320.9" y="69.5"/><use href="#s" x="321.3" y="69.5"/><use href="#s" x="321.7" y="69.5"/><use href="#s" x="322.1" y="69.5"/><use href="#s" x="322.5" y="69.5"/><use href="#s" x="322.9" y="69.5"/><use href="#s" x="323.3" y="69.5"/><use href="#s" x="323.7" y="69.5"/><use href="#s" x="324.1" y="69.5"/><use href="#s" x="324.5" y="69.5"/><use href="#s" x="324.9" y="69.5"/><use href="#s" x="325.3" y="69.5"/><use href="#s" x="325.7" y="69.5"/><use href="#s" x="326.1" y="69.5"/><use href="#s" x="326.5" y="69.5"/><use href="#s" x="326.9" y="69.5"/><use href="#s" x="327.3" y="69.5"/><use href="#s" x="327.7" y="69.5"/><use href="#s" x="328.1" y="69.5"/><use href="#s" x="328.5" y="69.5"/><use href="#s" x="328.9" y="69.5"/><use href="#s" x="329.3" y="69.5"/><use href="#s" x="329.7" y="69.5"/><use href="#s" x="330.1" y="69.5"/><use href="#s" x="330.5" y="69.5"/><use href="#s" x="330.9" y="69.5"/><use href="#s" x="331.3" y="69.5"/><use href="#s" x="331.7" y="69.5"/><use href="#s" x="332.1" y="69.5"/><use href="#s" x="332.5" y="69.5"/><use href="#s" x="332.9" y="69.5"/><use href="#s" x="333.3" y="69.5"/><use href="#s" x="333.7" y="69.5"/><use href="#s" x="334.1" y="69.5"/><use href="#s" x="334.5" y="69.5"/><use href="#s" x="334.9" y="69.5"/><use href="#s" x="335.3" y="69.5"/><use href="#s" x="335.7" y="69.5"/><use href="#s" x="336.1" y="69.5"/><use href="#s" x="336.5" y="69.5"/><use href="#s" x="336.9" y="69.5"/><use href="#s" x="337.3" y="69.5"/><use href="#s" x="337.7" y="69.5"/><use href="#s" x="338.1" y="69.5"/><use href="#s" x="338.5" y="69.5"/><use href="#s" x="338.9" y="69.5"/><use href="#s" x="339.3" y="69.5"/><use href="#s" x="339.7" y="69.5"/><use href="#s" x="340.1" y="69.5"/><use href="#s" x="340.5" y="69.5"/><use href="#s" x="268.1" y="67.9"/><use href="#s" x="273.5" y="67.9"/><use href="#s" x="278.8" y="67.9"/><use href="#s" x="284.2" y="67.9"/><use href="#s" x="289.5" y="67.9"/><use href="#s" x="294.9" y="67.9"/><use href="#s" x="300.3" y="67.9"/><use href="#s" x="305.6" y="67.9"/><use href="#s" x="311" y="67.9"/><use href="#s" x="316.3" y="67.9"/><use href="#s" x="321.7" y="67.9"/><use href="#s" x="327.1" y="67.9"/><use href="#s" x="332.4" y="67.9"/><use href="#s" x="337.8" y="67.9"/></g>
<g fill="#fff" stroke="#1c1c1c" stroke-width=".88" stroke-linejoin="miter"><use href="#t" x="451.1" y="186.2"/><use href="#t" x="451.1" y="182.6"/><use href="#t" x="451.2" y="103.8"/><use href="#t" x="451.2" y="83.6"/><use href="#t" x="448.4" y="77.9"/><use href="#t" x="453.6" y="76"/><use href="#t" x="418.4" y="73.3"/><use href="#t" x="423.8" y="73.3"/><use href="#t" x="429.2" y="73.3"/><use href="#t" x="434.5" y="71.4"/><use href="#t" x="439.9" y="71.4"/><use href="#t" x="445.4" y="71.4"/><use href="#t" x="450.8" y="71.4"/><use href="#t" x="456.2" y="71.4"/><use href="#t" x="461.8" y="71.4"/><use href="#t" x="467.2" y="71.4"/><use href="#t" x="472.6" y="71.4"/><use href="#t" x="478.2" y="71.4"/><use href="#t" x="483.6" y="71.4"/></g>
<g fill="#fff" stroke="#1c1c1c" stroke-width=".88"><circle cx="163" cy="782.5" r="2.4"/><circle cx="163" cy="759.6" r="2.4"/><circle cx="163" cy="752.2" r="2.4"/><circle cx="163" cy="747.3" r="2.4"/><circle cx="163" cy="743.2" r="2.4"/><circle cx="160.3" cy="740" r="2.4"/><circle cx="165.6" cy="739.6" r="2.4"/><circle cx="158" cy="736.8" r="2.4"/><circle cx="163" cy="736.4" r="2.4"/><circle cx="168.2" cy="736.6" r="2.4"/><circle cx="152.4" cy="733" r="2.4"/><circle cx="157.6" cy="733" r="2.4"/><circle cx="163" cy="733" r="2.4"/><circle cx="168.3" cy="733" r="2.4"/><circle cx="174" cy="730.4" r="2.4"/><circle cx="155.2" cy="729.2" r="2.4"/><circle cx="160.4" cy="729.4" r="2.4"/><circle cx="165.9" cy="729" r="2.4"/><circle cx="170.8" cy="729" r="2.4"/><circle cx="147.1" cy="726.6" r="2.4"/><circle cx="152.5" cy="726.6" r="2.4"/><circle cx="157.9" cy="726.6" r="2.4"/><circle cx="163.3" cy="724.6" r="2.4"/><circle cx="168.7" cy="724.6" r="2.4"/><circle cx="174.1" cy="724.6" r="2.4"/><circle cx="179.5" cy="724.6" r="2.4"/><circle cx="145.7" cy="721.8" r="2.4"/><circle cx="150.8" cy="721.7" r="2.4"/><circle cx="156.4" cy="721.8" r="2.4"/><circle cx="161.8" cy="721.8" r="2.4"/><circle cx="166.9" cy="721.8" r="2.4"/><circle cx="171.6" cy="722.1" r="2.4"/><circle cx="176.9" cy="722.1" r="2.4"/><circle cx="139.9" cy="717.9" r="2.4"/><circle cx="145.4" cy="718.3" r="2.4"/><circle cx="150.5" cy="718.3" r="2.4"/><circle cx="155.2" cy="718.3" r="2.4"/><circle cx="160.6" cy="716.8" r="2.4"/><circle cx="165.9" cy="716.7" r="2.4"/><circle cx="171" cy="716.9" r="2.4"/><circle cx="175.5" cy="716.5" r="2.4"/><circle cx="181" cy="717" r="2.4"/><circle cx="138.3" cy="713.9" r="2.4"/><circle cx="143.8" cy="713.8" r="2.4"/><circle cx="149" cy="714" r="2.4"/><circle cx="153.6" cy="713.9" r="2.4"/><circle cx="159" cy="714" r="2.4"/><circle cx="164.2" cy="712.4" r="2.4"/><circle cx="169.3" cy="712.5" r="2.4"/><circle cx="174.3" cy="712.7" r="2.4"/><circle cx="179.3" cy="712.5" r="2.4"/><circle cx="184.6" cy="712.9" r="2.4"/><circle cx="136.7" cy="710" r="2.4"/><circle cx="141.6" cy="709.7" r="2.4"/><circle cx="147.2" cy="710.1" r="2.4"/><circle cx="152.3" cy="709.9" r="2.4"/><circle cx="157.4" cy="710.3" r="2.4"/><circle cx="162.7" cy="708.7" r="2.4"/><circle cx="167.6" cy="708.6" r="2.4"/><circle cx="173.1" cy="708.5" r="2.4"/><circle cx="178.2" cy="708.7" r="2.4"/><circle cx="183.5" cy="708.8" r="2.4"/><circle cx="188.4" cy="708.3" r="2.4"/><circle cx="133.3" cy="706.4" r="2.4"/><circle cx="138.7" cy="706.6" r="2.4"/><circle cx="144" cy="706.1" r="2.4"/><circle cx="149.2" cy="706.6" r="2.4"/><circle cx="154.4" cy="706.4" r="2.4"/><circle cx="159.3" cy="706.6" r="2.4"/><circle cx="164.8" cy="704.9" r="2.4"/><circle cx="170" cy="704.7" r="2.4"/><circle cx="174.8" cy="704.8" r="2.4"/><circle cx="180.4" cy="704.6" r="2.4"/><circle cx="185.6" cy="705.1" r="2.4"/><circle cx="190.4" cy="704.9" r="2.4"/><circle cx="131.5" cy="702.6" r="2.4"/><circle cx="136.3" cy="702.5" r="2.4"/><circle cx="141.8" cy="702.8" r="2.4"/><circle cx="146.7" cy="702.4" r="2.4"/><circle cx="152" cy="702.8" r="2.4"/><circle cx="156.7" cy="702.6" r="2.4"/><circle cx="162.2" cy="701.2" r="2.4"/><circle cx="167.1" cy="701" r="2.4"/><circle cx="172.3" cy="700.8" r="2.4"/><circle cx="177.1" cy="700.8" r="2.4"/><circle cx="182.5" cy="700.9" r="2.4"/><circle cx="187.5" cy="700.9" r="2.4"/><circle cx="192.6" cy="700.8" r="2.4"/><circle cx="128.4" cy="699" r="2.4"/><circle cx="133.8" cy="698.6" r="2.4"/><circle cx="139.2" cy="698.9" r="2.4"/><circle cx="144.3" cy="698.8" r="2.4"/><circle cx="149.7" cy="698.8" r="2.4"/><circle cx="154.9" cy="698.6" r="2.4"/><circle cx="160.5" cy="698.9" r="2.4"/><circle cx="165.6" cy="697.2" r="2.4"/><circle cx="170.9" cy="697.3" r="2.4"/><circle cx="176.2" cy="697.4" r="2.4"/><circle cx="181.7" cy="697.3" r="2.4"/><circle cx="187" cy="697.1" r="2.4"/><circle cx="192" cy="697.1" r="2.4"/><circle cx="197.3" cy="697" r="2.4"/><circle cx="127.4" cy="694.3" r="2.4"/><circle cx="130.9" cy="694.1" r="2.4"/><circle cx="134.4" cy="694.4" r="2.4"/><circle cx="137.9" cy="694.3" r="2.4"/><circle cx="141.4" cy="693.8" r="2.4"/><circle cx="147.7" cy="692.5" r="2.4"/><circle cx="151.3" cy="692.3" r="2.4"/><circle cx="154.9" cy="692.2" r="2.4"/><circle cx="158.6" cy="692.7" r="2.4"/><circle cx="162.2" cy="692.3" r="2.4"/><circle cx="165.9" cy="692.4" r="2.4"/><circle cx="169.5" cy="692.5" r="2.4"/><circle cx="173.1" cy="692.7" r="2.4"/><circle cx="176.8" cy="692.5" r="2.4"/><circle cx="180.4" cy="692.3" r="2.4"/><circle cx="184" cy="692.4" r="2.4"/><circle cx="187.7" cy="692.2" r="2.4"/><circle cx="191.3" cy="692.7" r="2.4"/><circle cx="195" cy="692.7" r="2.4"/><circle cx="198.6" cy="692.2" r="2.4"/><circle cx="127.4" cy="690.5" r="2.4"/><circle cx="130.4" cy="690.8" r="2.4"/><circle cx="133.4" cy="690.8" r="2.4"/><circle cx="136.4" cy="690.8" r="2.4"/><circle cx="139.4" cy="690.3" r="2.4"/><circle cx="142.4" cy="690.8" r="2.4"/><circle cx="146.5" cy="689" r="2.4"/><circle cx="149.4" cy="689" r="2.4"/><circle cx="152.3" cy="689.2" r="2.4"/><circle cx="155.2" cy="688.6" r="2.4"/><circle cx="158.1" cy="688.7" r="2.4"/><circle cx="161" cy="689.1" r="2.4"/><circle cx="163.9" cy="689.2" r="2.4"/><circle cx="166.8" cy="689" r="2.4"/><circle cx="169.7" cy="688.8" r="2.4"/><circle cx="172.6" cy="689" r="2.4"/><circle cx="175.5" cy="689.1" r="2.4"/><circle cx="178.4" cy="688.7" r="2.4"/><circle cx="181.2" cy="688.8" r="2.4"/><circle cx="184.1" cy="688.8" r="2.4"/><circle cx="187" cy="688.7" r="2.4"/><circle cx="189.9" cy="688.9" r="2.4"/><circle cx="192.8" cy="688.7" r="2.4"/><circle cx="195.7" cy="688.7" r="2.4"/><circle cx="198.6" cy="688.7" r="2.4"/><circle cx="127.4" cy="687.2" r="2.4"/><circle cx="130.2" cy="686.9" r="2.4"/><circle cx="133" cy="686.8" r="2.4"/><circle cx="135.8" cy="687.4" r="2.4"/><circle cx="138.6" cy="686.9" r="2.4"/><circle cx="141.4" cy="687.4" r="2.4"/><circle cx="144.2" cy="687.3" r="2.4"/><circle cx="147" cy="687.3" r="2.4"/><circle cx="149.8" cy="686.9" r="2.4"/><circle cx="152.6" cy="687.1" r="2.4"/><circle cx="155.4" cy="686.9" r="2.4"/><circle cx="158.2" cy="687.4" r="2.4"/><circle cx="161" cy="687.3" r="2.4"/><circle cx="163.8" cy="687.2" r="2.4"/><circle cx="166.6" cy="687.1" r="2.4"/><circle cx="169.4" cy="687" r="2.4"/><circle cx="172.2" cy="687.3" r="2.4"/><circle cx="175.8" cy="685.4" r="2.4"/><circle cx="178.4" cy="685.5" r="2.4"/><circle cx="180.9" cy="685.2" r="2.4"/><circle cx="183.4" cy="685.2" r="2.4"/><circle cx="186" cy="685.1" r="2.4"/><circle cx="188.5" cy="685.5" r="2.4"/><circle cx="191" cy="685.4" r="2.4"/><circle cx="193.5" cy="685.2" r="2.4"/><circle cx="196.1" cy="685.6" r="2.4"/><circle cx="198.6" cy="685.3" r="2.4"/><circle cx="127.4" cy="683.5" r="2.4"/><circle cx="129.9" cy="683.8" r="2.4"/><circle cx="132.4" cy="683.5" r="2.4"/><circle cx="134.9" cy="683.4" r="2.4"/><circle cx="137.4" cy="683.6" r="2.4"/><circle cx="139.9" cy="683.5" r="2.4"/><circle cx="142.4" cy="683.8" r="2.4"/><circle cx="144.9" cy="683.4" r="2.4"/><circle cx="147.4" cy="683.9" r="2.4"/><circle cx="149.9" cy="683.3" r="2.4"/><circle cx="152.4" cy="683.8" r="2.4"/><circle cx="154.9" cy="683.7" r="2.4"/><circle cx="157.4" cy="683.4" r="2.4"/><circle cx="159.9" cy="683.6" r="2.4"/><circle cx="163.4" cy="681.8" r="2.4"/><circle cx="165.7" cy="681.8" r="2.4"/><circle cx="168.1" cy="681.7" r="2.4"/><circle cx="170.4" cy="681.8" r="2.4"/><circle cx="172.8" cy="682.2" r="2.4"/><circle cx="175.1" cy="682.2" r="2.4"/><circle cx="177.5" cy="682.2" r="2.4"/><circle cx="179.8" cy="681.7" r="2.4"/><circle cx="182.2" cy="681.8" r="2.4"/><circle cx="184.5" cy="682.1" r="2.4"/><circle cx="186.9" cy="681.6" r="2.4"/><circle cx="189.2" cy="682" r="2.4"/><circle cx="191.6" cy="681.8" r="2.4"/><circle cx="193.9" cy="682.2" r="2.4"/><circle cx="196.3" cy="681.6" r="2.4"/><circle cx="198.6" cy="682.1" r="2.4"/><circle cx="127.4" cy="679.8" r="2.4"/><circle cx="129.6" cy="680.3" r="2.4"/><circle cx="131.8" cy="680.1" r="2.4"/><circle cx="134" cy="679.9" r="2.4"/><circle cx="136.2" cy="680.1" r="2.4"/><circle cx="138.4" cy="680.3" r="2.4"/><circle cx="140.6" cy="679.9" r="2.4"/><circle cx="142.8" cy="680.1" r="2.4"/><circle cx="145" cy="679.9" r="2.4"/><circle cx="147.2" cy="679.9" r="2.4"/><circle cx="149.4" cy="680.3" r="2.4"/><circle cx="151.6" cy="680.2" r="2.4"/><circle cx="153.8" cy="679.9" r="2.4"/><circle cx="156" cy="679.8" r="2.4"/><circle cx="159.5" cy="678.2" r="2.4"/><circle cx="161.6" cy="678.5" r="2.4"/><circle cx="163.6" cy="678.4" r="2.4"/><circle cx="165.7" cy="678.3" r="2.4"/><circle cx="167.7" cy="678.2" r="2.4"/><circle cx="169.8" cy="678.5" r="2.4"/><circle cx="171.9" cy="678.5" r="2.4"/><circle cx="173.9" cy="678.6" r="2.4"/><circle cx="176" cy="678.4" r="2.4"/><circle cx="178" cy="678.2" r="2.4"/><circle cx="180.1" cy="678.1" r="2.4"/><circle cx="182.1" cy="678.5" r="2.4"/><circle cx="184.2" cy="678.3" r="2.4"/><circle cx="186.3" cy="678.5" r="2.4"/><circle cx="188.3" cy="678.1" r="2.4"/><circle cx="190.4" cy="678.6" r="2.4"/><circle cx="192.4" cy="678.3" r="2.4"/><circle cx="194.5" cy="678.6" r="2.4"/><circle cx="196.5" cy="678.6" r="2.4"/><circle cx="198.6" cy="678.4" r="2.4"/><circle cx="127.4" cy="676.6" r="2.4"/><circle cx="129.3" cy="676.8" r="2.4"/><circle cx="131.2" cy="676.5" r="2.4"/><circle cx="133.1" cy="676.4" r="2.4"/><circle cx="135" cy="676.8" r="2.4"/><circle cx="136.9" cy="676.5" r="2.4"/><circle cx="138.8" cy="676.4" r="2.4"/><circle cx="140.7" cy="676.5" r="2.4"/><circle cx="145" cy="675" r="2.4"/><circle cx="147.2" cy="674.6" r="2.4"/><circle cx="149.3" cy="674.9" r="2.4"/><circle cx="151.5" cy="674.9" r="2.4"/><circle cx="153.6" cy="674.9" r="2.4"/><circle cx="155.8" cy="674.7" r="2.4"/><circle cx="157.9" cy="675" r="2.4"/><circle cx="160" cy="675.1" r="2.4"/><circle cx="162.2" cy="675.1" r="2.4"/><circle cx="164.3" cy="674.8" r="2.4"/><circle cx="166.5" cy="675" r="2.4"/><circle cx="168.6" cy="674.8" r="2.4"/><circle cx="170.7" cy="675.1" r="2.4"/><circle cx="172.9" cy="674.6" r="2.4"/><circle cx="175" cy="675.1" r="2.4"/><circle cx="177.2" cy="675.2" r="2.4"/><circle cx="179.3" cy="674.9" r="2.4"/><circle cx="181.5" cy="674.9" r="2.4"/><circle cx="183.6" cy="674.9" r="2.4"/><circle cx="185.7" cy="674.9" r="2.4"/><circle cx="187.9" cy="674.6" r="2.4"/><circle cx="190" cy="675.2" r="2.4"/><circle cx="192.2" cy="674.7" r="2.4"/><circle cx="194.3" cy="674.7" r="2.4"/><circle cx="196.5" cy="674.7" r="2.4"/><circle cx="198.6" cy="674.8" r="2.4"/><circle cx="127.4" cy="672.9" r="2.4"/><circle cx="129.1" cy="673.2" r="2.4"/><circle cx="130.8" cy="672.9" r="2.4"/><circle cx="132.5" cy="672.8" r="2.4"/><circle cx="134.2" cy="673.2" r="2.4"/><circle cx="135.9" cy="673.1" r="2.4"/><circle cx="137.6" cy="673.1" r="2.4"/><circle cx="139.3" cy="673.2" r="2.4"/><circle cx="141" cy="672.9" r="2.4"/><circle cx="142.7" cy="673.3" r="2.4"/><circle cx="144.4" cy="673.2" r="2.4"/><circle cx="146.1" cy="672.8" r="2.4"/><circle cx="147.8" cy="672.9" r="2.4"/><circle cx="149.5" cy="673.1" r="2.4"/><circle cx="151.2" cy="673.1" r="2.4"/><circle cx="152.9" cy="673" r="2.4"/><circle cx="154.6" cy="672.9" r="2.4"/><circle cx="156.3" cy="673" r="2.4"/><circle cx="158" cy="672.9" r="2.4"/><circle cx="159.7" cy="673.2" r="2.4"/><circle cx="161.4" cy="673.3" r="2.4"/><circle cx="163.1" cy="672.9" r="2.4"/><circle cx="164.8" cy="673.1" r="2.4"/><circle cx="166.5" cy="673.2" r="2.4"/><circle cx="168.2" cy="672.9" r="2.4"/><circle cx="169.9" cy="673.3" r="2.4"/><circle cx="171.6" cy="673.4" r="2.4"/><circle cx="173.3" cy="673" r="2.4"/><circle cx="175" cy="673.1" r="2.4"/><circle cx="176.7" cy="673.3" r="2.4"/><circle cx="178.4" cy="673.1" r="2.4"/><circle cx="181.6" cy="671.3" r="2.4"/><circle cx="183.2" cy="671.7" r="2.4"/><circle cx="184.7" cy="671.6" r="2.4"/><circle cx="186.3" cy="671.3" r="2.4"/><circle cx="187.8" cy="671.2" r="2.4"/><circle cx="189.3" cy="671.3" r="2.4"/><circle cx="190.9" cy="671.4" r="2.4"/><circle cx="192.4" cy="671.7" r="2.4"/><circle cx="194" cy="671.6" r="2.4"/><circle cx="195.5" cy="671.6" r="2.4"/><circle cx="197.1" cy="671.6" r="2.4"/><circle cx="198.6" cy="671.6" r="2.4"/><circle cx="127.4" cy="669.9" r="2.4"/><circle cx="129.9" cy="669.9" r="2.4"/><circle cx="132.4" cy="669.4" r="2.4"/><circle cx="134.9" cy="669.6" r="2.4"/><circle cx="137.4" cy="669.7" r="2.4"/><circle cx="139.9" cy="669.5" r="2.4"/><circle cx="142.4" cy="669.6" r="2.4"/><circle cx="147.1" cy="667.6" r="2.4"/><circle cx="149.7" cy="667.9" r="2.4"/><circle cx="152.3" cy="667.9" r="2.4"/><circle cx="154.9" cy="667.6" r="2.4"/><circle cx="157.4" cy="667.7" r="2.4"/><circle cx="160" cy="668.2" r="2.4"/><circle cx="162.6" cy="668.1" r="2.4"/><circle cx="165.1" cy="668.2" r="2.4"/><circle cx="167.7" cy="668" r="2.4"/><circle cx="170.3" cy="668.1" r="2.4"/><circle cx="172.9" cy="668.1" r="2.4"/><circle cx="175.4" cy="668.1" r="2.4"/><circle cx="178" cy="667.6" r="2.4"/><circle cx="180.6" cy="668" r="2.4"/><circle cx="183.2" cy="667.8" r="2.4"/><circle cx="185.7" cy="668" r="2.4"/><circle cx="188.3" cy="667.8" r="2.4"/><circle cx="190.9" cy="667.9" r="2.4"/><circle cx="193.5" cy="668.2" r="2.4"/><circle cx="196" cy="668" r="2.4"/><circle cx="198.6" cy="667.8" r="2.4"/><circle cx="127.4" cy="666.4" r="2.4"/><circle cx="129" cy="666" r="2.4"/><circle cx="130.6" cy="666" r="2.4"/><circle cx="132.2" cy="666.2" r="2.4"/><circle cx="133.8" cy="665.9" r="2.4"/><circle cx="135.4" cy="666.2" r="2.4"/><circle cx="137" cy="666.4" r="2.4"/><circle cx="138.6" cy="666.1" r="2.4"/><circle cx="140.2" cy="666" r="2.4"/><circle cx="141.8" cy="666.1" r="2.4"/><circle cx="143.4" cy="666.1" r="2.4"/><circle cx="145" cy="665.9" r="2.4"/><circle cx="146.6" cy="665.9" r="2.4"/><circle cx="148.2" cy="665.9" r="2.4"/><circle cx="149.8" cy="666" r="2.4"/><circle cx="151.4" cy="666" r="2.4"/><circle cx="153" cy="666" r="2.4"/><circle cx="154.6" cy="665.9" r="2.4"/><circle cx="156.2" cy="665.9" r="2.4"/><circle cx="157.8" cy="666.1" r="2.4"/><circle cx="159.4" cy="666.3" r="2.4"/><circle cx="161" cy="666.2" r="2.4"/><circle cx="162.6" cy="666.1" r="2.4"/><circle cx="164.2" cy="666.2" r="2.4"/><circle cx="167.9" cy="664.2" r="2.4"/><circle cx="169.6" cy="664.5" r="2.4"/><circle cx="171.2" cy="664.4" r="2.4"/><circle cx="172.8" cy="664.4" r="2.4"/><circle cx="174.4" cy="664.5" r="2.4"/><circle cx="176" cy="664.4" r="2.4"/><circle cx="177.6" cy="664.3" r="2.4"/><circle cx="179.2" cy="664.2" r="2.4"/><circle cx="180.9" cy="664.2" r="2.4"/><circle cx="182.5" cy="664.4" r="2.4"/><circle cx="184.1" cy="664.3" r="2.4"/><circle cx="185.7" cy="664.5" r="2.4"/><circle cx="187.3" cy="664.1" r="2.4"/><circle cx="188.9" cy="664.3" r="2.4"/><circle cx="190.5" cy="664.6" r="2.4"/><circle cx="192.1" cy="664.2" r="2.4"/><circle cx="193.8" cy="664.4" r="2.4"/><circle cx="195.4" cy="664.4" r="2.4"/><circle cx="197" cy="664.3" r="2.4"/><circle cx="198.6" cy="664.7" r="2.4"/><circle cx="127.4" cy="662.4" r="2.4"/><circle cx="130" cy="662.3" r="2.4"/><circle cx="132.6" cy="662.8" r="2.4"/><circle cx="135.2" cy="662.6" r="2.4"/><circle cx="137.8" cy="662.3" r="2.4"/><circle cx="140.4" cy="662.5" r="2.4"/><circle cx="143" cy="662.6" r="2.4"/><circle cx="145.6" cy="662.7" r="2.4"/><circle cx="148.2" cy="662.4" r="2.4"/><circle cx="150.8" cy="662.4" r="2.4"/><circle cx="153.4" cy="662.9" r="2.4"/><circle cx="158.8" cy="661" r="2.4"/><circle cx="161.7" cy="660.7" r="2.4"/><circle cx="164.5" cy="660.8" r="2.4"/><circle cx="167.3" cy="660.8" r="2.4"/><circle cx="170.2" cy="661" r="2.4"/><circle cx="173" cy="661" r="2.4"/><circle cx="175.9" cy="661.1" r="2.4"/><circle cx="178.7" cy="661.1" r="2.4"/><circle cx="181.5" cy="660.9" r="2.4"/><circle cx="184.4" cy="661" r="2.4"/><circle cx="187.2" cy="661" r="2.4"/><circle cx="190.1" cy="661.1" r="2.4"/><circle cx="192.9" cy="660.9" r="2.4"/><circle cx="195.8" cy="661.1" r="2.4"/><circle cx="198.6" cy="661" r="2.4"/><circle cx="127.4" cy="659.3" r="2.4"/><circle cx="129.1" cy="658.8" r="2.4"/><circle cx="130.8" cy="659.3" r="2.4"/><circle cx="132.5" cy="659.2" r="2.4"/><circle cx="134.2" cy="659.1" r="2.4"/><circle cx="135.9" cy="659.4" r="2.4"/><circle cx="137.6" cy="659.1" r="2.4"/><circle cx="139.3" cy="659.1" r="2.4"/><circle cx="141" cy="659.3" r="2.4"/><circle cx="142.7" cy="659.3" r="2.4"/><circle cx="144.4" cy="659.2" r="2.4"/><circle cx="146.1" cy="659" r="2.4"/><circle cx="147.8" cy="659.1" r="2.4"/><circle cx="149.5" cy="659.1" r="2.4"/><circle cx="151.2" cy="659.2" r="2.4"/><circle cx="152.9" cy="659" r="2.4"/><circle cx="154.6" cy="659" r="2.4"/><circle cx="156.3" cy="659.1" r="2.4"/><circle cx="158" cy="659" r="2.4"/><circle cx="159.7" cy="659" r="2.4"/><circle cx="161.4" cy="659.3" r="2.4"/><circle cx="163.1" cy="659.3" r="2.4"/><circle cx="164.8" cy="659.1" r="2.4"/><circle cx="166.5" cy="659.1" r="2.4"/><circle cx="168.2" cy="658.9" r="2.4"/><circle cx="169.9" cy="659" r="2.4"/><circle cx="171.6" cy="658.9" r="2.4"/><circle cx="173.3" cy="659.1" r="2.4"/><circle cx="175" cy="659.1" r="2.4"/><circle cx="176.7" cy="658.9" r="2.4"/><circle cx="178.4" cy="659.4" r="2.4"/><circle cx="180.1" cy="659" r="2.4"/><circle cx="181.8" cy="659.3" r="2.4"/><circle cx="183.5" cy="659.3" r="2.4"/><circle cx="185.9" cy="657.7" r="2.4"/><circle cx="187.5" cy="657.2" r="2.4"/><circle cx="189.1" cy="657.4" r="2.4"/><circle cx="190.7" cy="657.6" r="2.4"/><circle cx="192.3" cy="657.1" r="2.4"/><circle cx="193.8" cy="657.1" r="2.4"/><circle cx="195.4" cy="657.4" r="2.4"/><circle cx="197" cy="657.4" r="2.4"/><circle cx="198.6" cy="657.7" r="2.4"/><circle cx="127.4" cy="655.9" r="2.4"/><circle cx="129.8" cy="655.6" r="2.4"/><circle cx="132.2" cy="655.6" r="2.4"/><circle cx="134.6" cy="655.7" r="2.4"/><circle cx="137" cy="655.5" r="2.4"/><circle cx="139.4" cy="655.5" r="2.4"/><circle cx="141.8" cy="655.7" r="2.4"/><circle cx="144.2" cy="655.5" r="2.4"/><circle cx="146.6" cy="655.9" r="2.4"/><circle cx="149" cy="655.7" r="2.4"/><circle cx="151.4" cy="655.6" r="2.4"/><circle cx="153.8" cy="655.4" r="2.4"/><circle cx="156.2" cy="655.5" r="2.4"/><circle cx="158.6" cy="655.5" r="2.4"/><circle cx="161" cy="655.6" r="2.4"/><circle cx="163.4" cy="655.6" r="2.4"/><circle cx="165.8" cy="655.8" r="2.4"/><circle cx="168.2" cy="655.9" r="2.4"/><circle cx="170.6" cy="655.6" r="2.4"/><circle cx="173" cy="655.6" r="2.4"/><circle cx="175.4" cy="655.7" r="2.4"/><circle cx="178.7" cy="654.2" r="2.4"/><circle cx="181.2" cy="653.8" r="2.4"/><circle cx="183.7" cy="653.9" r="2.4"/><circle cx="186.2" cy="654.1" r="2.4"/><circle cx="188.7" cy="653.7" r="2.4"/><circle cx="191.2" cy="653.8" r="2.4"/><circle cx="193.6" cy="654.2" r="2.4"/><circle cx="196.1" cy="654.1" r="2.4"/><circle cx="198.6" cy="653.9" r="2.4"/><circle cx="127.4" cy="652.2" r="2.4"/><circle cx="129" cy="652.3" r="2.4"/><circle cx="130.6" cy="652.4" r="2.4"/><circle cx="132.2" cy="652.3" r="2.4"/><circle cx="133.8" cy="652.1" r="2.4"/><circle cx="135.4" cy="651.9" r="2.4"/><circle cx="137" cy="652" r="2.4"/><circle cx="138.6" cy="652.1" r="2.4"/><circle cx="140.2" cy="652.1" r="2.4"/><circle cx="141.8" cy="651.9" r="2.4"/><circle cx="143.4" cy="651.9" r="2.4"/><circle cx="145" cy="652.2" r="2.4"/><circle cx="146.6" cy="652.2" r="2.4"/><circle cx="148.3" cy="650.3" r="2.4"/><circle cx="150.1" cy="650.7" r="2.4"/><circle cx="151.9" cy="650.5" r="2.4"/><circle cx="153.7" cy="650.1" r="2.4"/><circle cx="155.5" cy="650.3" r="2.4"/><circle cx="157.3" cy="650.6" r="2.4"/><circle cx="159" cy="650.3" r="2.4"/><circle cx="160.8" cy="650.5" r="2.4"/><circle cx="162.6" cy="650.1" r="2.4"/><circle cx="164.4" cy="650.3" r="2.4"/><circle cx="166.2" cy="650.6" r="2.4"/><circle cx="168" cy="650.5" r="2.4"/><circle cx="169.8" cy="650.5" r="2.4"/><circle cx="171.6" cy="650.2" r="2.4"/><circle cx="173.4" cy="650.4" r="2.4"/><circle cx="175.2" cy="650.4" r="2.4"/><circle cx="177" cy="650.3" r="2.4"/><circle cx="178.8" cy="650.5" r="2.4"/><circle cx="180.6" cy="650.4" r="2.4"/><circle cx="182.4" cy="650.7" r="2.4"/><circle cx="184.2" cy="650.4" r="2.4"/><circle cx="186" cy="650.3" r="2.4"/><circle cx="187.8" cy="650.2" r="2.4"/><circle cx="189.6" cy="650.2" r="2.4"/><circle cx="191.4" cy="650.6" r="2.4"/><circle cx="193.2" cy="650.2" r="2.4"/><circle cx="195" cy="650.2" r="2.4"/><circle cx="196.8" cy="650.2" r="2.4"/><circle cx="198.6" cy="650.4" r="2.4"/><circle cx="127.4" cy="648.8" r="2.4"/><circle cx="129.9" cy="648.3" r="2.4"/><circle cx="132.4" cy="648.3" r="2.4"/><circle cx="134.9" cy="648.8" r="2.4"/><circle cx="137.4" cy="648.5" r="2.4"/><circle cx="139.9" cy="648.7" r="2.4"/><circle cx="142.4" cy="648.5" r="2.4"/><circle cx="144.9" cy="648.4" r="2.4"/><circle cx="147.4" cy="648.5" r="2.4"/><circle cx="149.9" cy="648.4" r="2.4"/><circle cx="152.4" cy="648.8" r="2.4"/><circle cx="154.9" cy="648.6" r="2.4"/><circle cx="157.4" cy="648.5" r="2.4"/><circle cx="159.9" cy="648.6" r="2.4"/><circle cx="162.4" cy="648.5" r="2.4"/><circle cx="164.9" cy="648.3" r="2.4"/><circle cx="167.4" cy="648.8" r="2.4"/><circle cx="169.9" cy="648.6" r="2.4"/><circle cx="172.4" cy="648.9" r="2.4"/><circle cx="174.9" cy="648.6" r="2.4"/><circle cx="177.4" cy="648.7" r="2.4"/><circle cx="182.8" cy="646.7" r="2.4"/><circle cx="185.4" cy="646.6" r="2.4"/><circle cx="188.1" cy="647.2" r="2.4"/><circle cx="190.7" cy="647.1" r="2.4"/><circle cx="193.3" cy="646.8" r="2.4"/><circle cx="196" cy="647.1" r="2.4"/><circle cx="198.6" cy="647.1" r="2.4"/><circle cx="127.4" cy="645.4" r="2.4"/><circle cx="129.1" cy="645.1" r="2.4"/><circle cx="130.8" cy="645.4" r="2.4"/><circle cx="132.5" cy="644.9" r="2.4"/><circle cx="134.2" cy="645" r="2.4"/><circle cx="135.9" cy="645.2" r="2.4"/><circle cx="137.6" cy="644.9" r="2.4"/><circle cx="139.3" cy="645" r="2.4"/><circle cx="141" cy="645.3" r="2.4"/><circle cx="142.7" cy="645.1" r="2.4"/><circle cx="144.4" cy="645.3" r="2.4"/><circle cx="146.1" cy="644.9" r="2.4"/><circle cx="147.8" cy="644.9" r="2.4"/><circle cx="149.5" cy="645" r="2.4"/><circle cx="151.2" cy="644.9" r="2.4"/><circle cx="152.9" cy="645.4" r="2.4"/><circle cx="154.6" cy="645" r="2.4"/><circle cx="157.5" cy="643.4" r="2.4"/><circle cx="159.3" cy="643.2" r="2.4"/><circle cx="161.1" cy="643.4" r="2.4"/><circle cx="162.9" cy="643.3" r="2.4"/><circle cx="164.7" cy="643.3" r="2.4"/><circle cx="166.5" cy="643.1" r="2.4"/><circle cx="168.2" cy="643.2" r="2.4"/><circle cx="170" cy="643.6" r="2.4"/><circle cx="171.8" cy="643.3" r="2.4"/><circle cx="173.6" cy="643.2" r="2.4"/><circle cx="175.4" cy="643.2" r="2.4"/><circle cx="177.2" cy="643.3" r="2.4"/><circle cx="179" cy="643.2" r="2.4"/><circle cx="180.7" cy="643.1" r="2.4"/><circle cx="182.5" cy="643.5" r="2.4"/><circle cx="184.3" cy="643.3" r="2.4"/><circle cx="186.1" cy="643.2" r="2.4"/><circle cx="187.9" cy="643.5" r="2.4"/><circle cx="189.7" cy="643.2" r="2.4"/><circle cx="191.5" cy="643.3" r="2.4"/><circle cx="193.2" cy="643.6" r="2.4"/><circle cx="195" cy="643.2" r="2.4"/><circle cx="196.8" cy="643.4" r="2.4"/><circle cx="198.6" cy="643.6" r="2.4"/><circle cx="127.4" cy="641.5" r="2.4"/><circle cx="130" cy="641.7" r="2.4"/><circle cx="132.6" cy="641.5" r="2.4"/><circle cx="135.2" cy="641.9" r="2.4"/><circle cx="137.8" cy="641.4" r="2.4"/><circle cx="140.4" cy="641.9" r="2.4"/><circle cx="143" cy="641.6" r="2.4"/><circle cx="145.6" cy="641.4" r="2.4"/><circle cx="148.2" cy="641.6" r="2.4"/><circle cx="150.8" cy="641.4" r="2.4"/><circle cx="153.4" cy="641.7" r="2.4"/><circle cx="156" cy="641.5" r="2.4"/><circle cx="158.6" cy="641.8" r="2.4"/><circle cx="161.2" cy="641.7" r="2.4"/><circle cx="163.8" cy="641.5" r="2.4"/><circle cx="166.4" cy="641.4" r="2.4"/><circle cx="169" cy="641.7" r="2.4"/><circle cx="171.6" cy="641.4" r="2.4"/><circle cx="174.2" cy="641.8" r="2.4"/><circle cx="176.8" cy="641.4" r="2.4"/><circle cx="181.5" cy="639.9" r="2.4"/><circle cx="183.9" cy="639.9" r="2.4"/><circle cx="186.4" cy="639.8" r="2.4"/><circle cx="188.8" cy="640.1" r="2.4"/><circle cx="191.3" cy="639.8" r="2.4"/><circle cx="193.7" cy="640" r="2.4"/><circle cx="196.2" cy="639.9" r="2.4"/><circle cx="198.6" cy="639.8" r="2.4"/><circle cx="127.4" cy="637.9" r="2.4"/><circle cx="129" cy="638.3" r="2.4"/><circle cx="130.6" cy="638" r="2.4"/><circle cx="132.2" cy="638.2" r="2.4"/><circle cx="133.8" cy="637.9" r="2.4"/><circle cx="135.4" cy="638.1" r="2.4"/><circle cx="137" cy="638" r="2.4"/><circle cx="138.6" cy="638.1" r="2.4"/><circle cx="140.2" cy="638" r="2.4"/><circle cx="141.8" cy="637.8" r="2.4"/><circle cx="143.4" cy="638" r="2.4"/><circle cx="145" cy="637.9" r="2.4"/><circle cx="146.6" cy="637.9" r="2.4"/><circle cx="148.2" cy="638.2" r="2.4"/><circle cx="149.8" cy="638" r="2.4"/><circle cx="151.4" cy="638" r="2.4"/><circle cx="153" cy="638.3" r="2.4"/><circle cx="154.6" cy="638.3" r="2.4"/><circle cx="156.2" cy="638.3" r="2.4"/><circle cx="157.8" cy="638.3" r="2.4"/><circle cx="159.4" cy="637.9" r="2.4"/><circle cx="161.7" cy="636.3" r="2.4"/><circle cx="163.2" cy="636.1" r="2.4"/><circle cx="164.7" cy="636.5" r="2.4"/><circle cx="166.2" cy="636.5" r="2.4"/><circle cx="167.6" cy="636.3" r="2.4"/><circle cx="169.1" cy="636.3" r="2.4"/><circle cx="170.6" cy="636.5" r="2.4"/><circle cx="172.1" cy="636.5" r="2.4"/><circle cx="173.5" cy="636.2" r="2.4"/><circle cx="175" cy="636.6" r="2.4"/><circle cx="176.5" cy="636.3" r="2.4"/><circle cx="178" cy="636.5" r="2.4"/><circle cx="179.4" cy="636.2" r="2.4"/><circle cx="180.9" cy="636.2" r="2.4"/><circle cx="182.4" cy="636.6" r="2.4"/><circle cx="183.9" cy="636.5" r="2.4"/><circle cx="185.3" cy="636.5" r="2.4"/><circle cx="186.8" cy="636.1" r="2.4"/><circle cx="188.3" cy="636.1" r="2.4"/><circle cx="189.8" cy="636.2" r="2.4"/><circle cx="191.2" cy="636.2" r="2.4"/><circle cx="192.7" cy="636.3" r="2.4"/><circle cx="194.2" cy="636.3" r="2.4"/><circle cx="195.7" cy="636.1" r="2.4"/><circle cx="197.1" cy="636.3" r="2.4"/><circle cx="198.6" cy="636.5" r="2.4"/><circle cx="127.4" cy="634.6" r="2.4"/><circle cx="129.9" cy="634.7" r="2.4"/><circle cx="132.4" cy="634.5" r="2.4"/><circle cx="134.9" cy="634.6" r="2.4"/><circle cx="137.4" cy="634.7" r="2.4"/><circle cx="139.9" cy="634.5" r="2.4"/><circle cx="142.4" cy="634.3" r="2.4"/><circle cx="144.9" cy="634.8" r="2.4"/><circle cx="147.4" cy="634.8" r="2.4"/><circle cx="149.9" cy="634.5" r="2.4"/><circle cx="151.4" cy="632.6" r="2.4"/><circle cx="154.2" cy="633.1" r="2.4"/><circle cx="157" cy="633" r="2.4"/><circle cx="159.8" cy="632.6" r="2.4"/><circle cx="162.5" cy="632.7" r="2.4"/><circle cx="165.3" cy="632.7" r="2.4"/><circle cx="168.1" cy="633.1" r="2.4"/><circle cx="170.9" cy="632.7" r="2.4"/><circle cx="173.6" cy="633.1" r="2.4"/><circle cx="176.4" cy="633" r="2.4"/><circle cx="179.2" cy="632.7" r="2.4"/><circle cx="182" cy="633" r="2.4"/><circle cx="184.7" cy="632.8" r="2.4"/><circle cx="187.5" cy="633" r="2.4"/><circle cx="190.3" cy="633.1" r="2.4"/><circle cx="193.1" cy="632.8" r="2.4"/><circle cx="195.8" cy="632.7" r="2.4"/><circle cx="198.6" cy="633.2" r="2.4"/><circle cx="127.4" cy="631.2" r="2.4"/><circle cx="129.1" cy="631.2" r="2.4"/><circle cx="130.8" cy="631.3" r="2.4"/><circle cx="132.5" cy="631.2" r="2.4"/><circle cx="134.2" cy="631.1" r="2.4"/><circle cx="135.9" cy="630.8" r="2.4"/><circle cx="137.6" cy="631.2" r="2.4"/><circle cx="139.3" cy="631.1" r="2.4"/><circle cx="141" cy="631.1" r="2.4"/><circle cx="142.7" cy="631.4" r="2.4"/><circle cx="144.4" cy="630.9" r="2.4"/><circle cx="146.1" cy="631.3" r="2.4"/><circle cx="147.8" cy="630.8" r="2.4"/><circle cx="149.5" cy="631.2" r="2.4"/><circle cx="151.2" cy="631.3" r="2.4"/><circle cx="152.9" cy="631" r="2.4"/><circle cx="154.6" cy="631.1" r="2.4"/><circle cx="156.3" cy="631.4" r="2.4"/><circle cx="158" cy="631.2" r="2.4"/><circle cx="159.7" cy="631.1" r="2.4"/><circle cx="163.9" cy="629.2" r="2.4"/><circle cx="165.9" cy="629.1" r="2.4"/><circle cx="167.8" cy="629.3" r="2.4"/><circle cx="169.7" cy="629.3" r="2.4"/><circle cx="171.6" cy="629.2" r="2.4"/><circle cx="173.6" cy="629.3" r="2.4"/><circle cx="175.5" cy="629.2" r="2.4"/><circle cx="177.4" cy="629.5" r="2.4"/><circle cx="179.3" cy="629.5" r="2.4"/><circle cx="181.3" cy="629.2" r="2.4"/><circle cx="183.2" cy="629.2" r="2.4"/><circle cx="185.1" cy="629.4" r="2.4"/><circle cx="187" cy="629.4" r="2.4"/><circle cx="189" cy="629.7" r="2.4"/><circle cx="190.9" cy="629.3" r="2.4"/><circle cx="192.8" cy="629.3" r="2.4"/><circle cx="194.7" cy="629.6" r="2.4"/><circle cx="196.7" cy="629.2" r="2.4"/><circle cx="198.6" cy="629.4" r="2.4"/><circle cx="127.4" cy="627.6" r="2.4"/><circle cx="130.1" cy="627.8" r="2.4"/><circle cx="132.8" cy="627.4" r="2.4"/><circle cx="135.5" cy="627.7" r="2.4"/><circle cx="138.2" cy="627.7" r="2.4"/><circle cx="140.9" cy="627.6" r="2.4"/><circle cx="143.6" cy="627.8" r="2.4"/><circle cx="146.3" cy="627.8" r="2.4"/><circle cx="149" cy="627.4" r="2.4"/><circle cx="151.7" cy="627.5" r="2.4"/><circle cx="154.4" cy="627.5" r="2.4"/><circle cx="159.9" cy="625.7" r="2.4"/><circle cx="162.8" cy="625.6" r="2.4"/><circle cx="165.8" cy="625.8" r="2.4"/><circle cx="168.8" cy="625.7" r="2.4"/><circle cx="171.8" cy="626" r="2.4"/><circle cx="174.8" cy="625.9" r="2.4"/><circle cx="177.7" cy="625.7" r="2.4"/><circle cx="180.7" cy="625.8" r="2.4"/><circle cx="183.7" cy="625.9" r="2.4"/><circle cx="186.7" cy="625.8" r="2.4"/><circle cx="189.7" cy="625.7" r="2.4"/><circle cx="192.6" cy="625.6" r="2.4"/><circle cx="195.6" cy="625.6" r="2.4"/><circle cx="198.6" cy="626.2" r="2.4"/><circle cx="127.4" cy="624.2" r="2.4"/><circle cx="129.1" cy="624.4" r="2.4"/><circle cx="130.8" cy="624.1" r="2.4"/><circle cx="132.5" cy="623.9" r="2.4"/><circle cx="134.2" cy="624.1" r="2.4"/><circle cx="135.9" cy="624.1" r="2.4"/><circle cx="137.6" cy="623.9" r="2.4"/><circle cx="139.3" cy="624.1" r="2.4"/><circle cx="141" cy="623.8" r="2.4"/><circle cx="142.7" cy="624.4" r="2.4"/><circle cx="144.4" cy="624.2" r="2.4"/><circle cx="146.1" cy="624.2" r="2.4"/><circle cx="147.8" cy="624.4" r="2.4"/><circle cx="149.5" cy="624.2" r="2.4"/><circle cx="151.2" cy="624" r="2.4"/><circle cx="152.9" cy="623.9" r="2.4"/><circle cx="154.6" cy="623.9" r="2.4"/><circle cx="156.3" cy="623.8" r="2.4"/><circle cx="158" cy="624.3" r="2.4"/><circle cx="159.7" cy="624.3" r="2.4"/><circle cx="161.4" cy="624" r="2.4"/><circle cx="163.1" cy="623.9" r="2.4"/><circle cx="164.8" cy="624.2" r="2.4"/><circle cx="166.5" cy="624.3" r="2.4"/><circle cx="168.2" cy="624.4" r="2.4"/><circle cx="169.9" cy="623.9" r="2.4"/><circle cx="171.6" cy="624.3" r="2.4"/><circle cx="173.3" cy="624.3" r="2.4"/><circle cx="175" cy="624.2" r="2.4"/><circle cx="178.2" cy="622.3" r="2.4"/><circle cx="179.8" cy="622.2" r="2.4"/><circle cx="181.4" cy="622.6" r="2.4"/><circle cx="182.9" cy="622.3" r="2.4"/><circle cx="184.5" cy="622.3" r="2.4"/><circle cx="186.1" cy="622.4" r="2.4"/><circle cx="187.6" cy="622.3" r="2.4"/><circle cx="189.2" cy="622.6" r="2.4"/><circle cx="190.8" cy="622.2" r="2.4"/><circle cx="192.3" cy="622.1" r="2.4"/><circle cx="193.9" cy="622.4" r="2.4"/><circle cx="195.5" cy="622.5" r="2.4"/><circle cx="197" cy="622.6" r="2.4"/><circle cx="198.6" cy="622.5" r="2.4"/><circle cx="127.4" cy="620.6" r="2.4"/><circle cx="130" cy="620.6" r="2.4"/><circle cx="132.6" cy="620.4" r="2.4"/><circle cx="135.2" cy="620.5" r="2.4"/><circle cx="137.8" cy="620.6" r="2.4"/><circle cx="140.4" cy="620.3" r="2.4"/><circle cx="143" cy="620.7" r="2.4"/><circle cx="145.6" cy="620.4" r="2.4"/><circle cx="148.2" cy="620.6" r="2.4"/><circle cx="150.8" cy="620.9" r="2.4"/><circle cx="153.4" cy="620.4" r="2.4"/><circle cx="156" cy="620.3" r="2.4"/><circle cx="158.6" cy="620.6" r="2.4"/><circle cx="161.2" cy="620.4" r="2.4"/><circle cx="163.8" cy="620.7" r="2.4"/><circle cx="166.4" cy="620.3" r="2.4"/><circle cx="169" cy="620.8" r="2.4"/><circle cx="171.6" cy="620.8" r="2.4"/><circle cx="174.2" cy="620.8" r="2.4"/><circle cx="176.8" cy="620.6" r="2.4"/><circle cx="179.4" cy="620.5" r="2.4"/><circle cx="182" cy="620.7" r="2.4"/><circle cx="186.8" cy="618.9" r="2.4"/><circle cx="189.7" cy="618.9" r="2.4"/><circle cx="192.7" cy="618.8" r="2.4"/><circle cx="195.6" cy="618.9" r="2.4"/><circle cx="198.6" cy="619" r="2.4"/><circle cx="127.4" cy="616.9" r="2.4"/><circle cx="129.2" cy="617" r="2.4"/><circle cx="131" cy="617.1" r="2.4"/><circle cx="132.8" cy="617.1" r="2.4"/><circle cx="134.6" cy="617" r="2.4"/><circle cx="136.4" cy="616.9" r="2.4"/><circle cx="138.2" cy="616.9" r="2.4"/><circle cx="140" cy="617" r="2.4"/><circle cx="141.8" cy="617.1" r="2.4"/><circle cx="143.6" cy="617.4" r="2.4"/><circle cx="145.4" cy="617.3" r="2.4"/><circle cx="147.2" cy="617.3" r="2.4"/><circle cx="149" cy="617.4" r="2.4"/><circle cx="150.8" cy="617.4" r="2.4"/><circle cx="152.6" cy="617.2" r="2.4"/><circle cx="154.4" cy="617.3" r="2.4"/><circle cx="156.2" cy="616.8" r="2.4"/><circle cx="158" cy="617.2" r="2.4"/><circle cx="159.8" cy="617.2" r="2.4"/><circle cx="161.6" cy="617" r="2.4"/><circle cx="163.4" cy="617.1" r="2.4"/><circle cx="165.2" cy="617.4" r="2.4"/><circle cx="167" cy="617.1" r="2.4"/><circle cx="168.8" cy="617.2" r="2.4"/><circle cx="170.6" cy="617" r="2.4"/><circle cx="172.4" cy="617" r="2.4"/><circle cx="174.2" cy="617.3" r="2.4"/><circle cx="176" cy="616.8" r="2.4"/><circle cx="177.8" cy="616.9" r="2.4"/><circle cx="179.6" cy="617.2" r="2.4"/><circle cx="182.4" cy="615.4" r="2.4"/><circle cx="184.4" cy="615.2" r="2.4"/><circle cx="186.4" cy="615.5" r="2.4"/><circle cx="188.5" cy="615.3" r="2.4"/><circle cx="190.5" cy="615.4" r="2.4"/><circle cx="192.5" cy="615.3" r="2.4"/><circle cx="194.5" cy="615.4" r="2.4"/><circle cx="196.6" cy="615.4" r="2.4"/><circle cx="198.6" cy="615.3" r="2.4"/><circle cx="127.4" cy="613.8" r="2.4"/><circle cx="130.1" cy="613.6" r="2.4"/><circle cx="132.8" cy="613.4" r="2.4"/><circle cx="135.5" cy="613.8" r="2.4"/><circle cx="138.2" cy="613.5" r="2.4"/><circle cx="140.9" cy="613.4" r="2.4"/><circle cx="143.6" cy="613.6" r="2.4"/><circle cx="146.3" cy="613.5" r="2.4"/><circle cx="150.1" cy="611.9" r="2.4"/><circle cx="152.7" cy="611.9" r="2.4"/><circle cx="155.2" cy="611.7" r="2.4"/><circle cx="157.8" cy="611.9" r="2.4"/><circle cx="160.3" cy="611.7" r="2.4"/><circle cx="162.9" cy="611.9" r="2.4"/><circle cx="165.4" cy="612" r="2.4"/><circle cx="168" cy="611.6" r="2.4"/><circle cx="170.5" cy="611.8" r="2.4"/><circle cx="173.1" cy="611.6" r="2.4"/><circle cx="175.6" cy="611.9" r="2.4"/><circle cx="178.2" cy="612.1" r="2.4"/><circle cx="180.7" cy="611.9" r="2.4"/><circle cx="183.3" cy="612" r="2.4"/><circle cx="185.8" cy="612.1" r="2.4"/><circle cx="188.4" cy="611.7" r="2.4"/><circle cx="190.9" cy="612.2" r="2.4"/><circle cx="193.5" cy="612" r="2.4"/><circle cx="196" cy="611.7" r="2.4"/><circle cx="198.6" cy="612.1" r="2.4"/><circle cx="127.4" cy="610.4" r="2.4"/><circle cx="129.3" cy="610.1" r="2.4"/><circle cx="131.2" cy="610.3" r="2.4"/><circle cx="133.1" cy="609.9" r="2.4"/><circle cx="135" cy="610.3" r="2.4"/><circle cx="136.9" cy="609.8" r="2.4"/><circle cx="138.8" cy="609.9" r="2.4"/><circle cx="140.7" cy="610" r="2.4"/><circle cx="142.6" cy="609.8" r="2.4"/><circle cx="144.5" cy="610.2" r="2.4"/><circle cx="146.4" cy="609.9" r="2.4"/><circle cx="148.3" cy="610" r="2.4"/><circle cx="150.2" cy="610.2" r="2.4"/><circle cx="152.1" cy="610.1" r="2.4"/><circle cx="154" cy="610.3" r="2.4"/><circle cx="155.9" cy="610.2" r="2.4"/><circle cx="157.8" cy="610.3" r="2.4"/><circle cx="159.7" cy="610.1" r="2.4"/><circle cx="161" cy="608.7" r="2.4"/><circle cx="162.8" cy="608.6" r="2.4"/><circle cx="164.6" cy="608.2" r="2.4"/><circle cx="166.4" cy="608.5" r="2.4"/><circle cx="168.1" cy="608.3" r="2.4"/><circle cx="169.9" cy="608.6" r="2.4"/><circle cx="171.7" cy="608.5" r="2.4"/><circle cx="173.5" cy="608.6" r="2.4"/><circle cx="175.3" cy="608.2" r="2.4"/><circle cx="177.1" cy="608.3" r="2.4"/><circle cx="178.9" cy="608.5" r="2.4"/><circle cx="180.7" cy="608.7" r="2.4"/><circle cx="182.5" cy="608.5" r="2.4"/><circle cx="184.3" cy="608.1" r="2.4"/><circle cx="186.1" cy="608.5" r="2.4"/><circle cx="187.9" cy="608.2" r="2.4"/><circle cx="189.6" cy="608.4" r="2.4"/><circle cx="191.4" cy="608.6" r="2.4"/><circle cx="193.2" cy="608.2" r="2.4"/><circle cx="195" cy="608.7" r="2.4"/><circle cx="196.8" cy="608.5" r="2.4"/><circle cx="198.6" cy="608.3" r="2.4"/><circle cx="127.4" cy="606.8" r="2.4"/><circle cx="129.7" cy="606.6" r="2.4"/><circle cx="132" cy="606.4" r="2.4"/><circle cx="134.3" cy="606.3" r="2.4"/><circle cx="136.6" cy="606.4" r="2.4"/><circle cx="138.9" cy="606.8" r="2.4"/><circle cx="141.2" cy="606.4" r="2.4"/><circle cx="143.5" cy="606.6" r="2.4"/><circle cx="145.8" cy="606.5" r="2.4"/><circle cx="148.1" cy="606.7" r="2.4"/><circle cx="150.4" cy="606.5" r="2.4"/><circle cx="152.1" cy="604.7" r="2.4"/><circle cx="154.4" cy="605.1" r="2.4"/><circle cx="156.7" cy="604.9" r="2.4"/><circle cx="159" cy="605" r="2.4"/><circle cx="161.4" cy="605.1" r="2.4"/><circle cx="163.7" cy="605.2" r="2.4"/><circle cx="166" cy="604.6" r="2.4"/><circle cx="168.4" cy="604.8" r="2.4"/><circle cx="170.7" cy="604.7" r="2.4"/><circle cx="173" cy="604.9" r="2.4"/><circle cx="175.3" cy="605.1" r="2.4"/><circle cx="177.7" cy="605.1" r="2.4"/><circle cx="180" cy="604.6" r="2.4"/><circle cx="182.3" cy="604.7" r="2.4"/><circle cx="184.6" cy="605.1" r="2.4"/><circle cx="187" cy="605" r="2.4"/><circle cx="189.3" cy="604.8" r="2.4"/><circle cx="191.6" cy="604.9" r="2.4"/><circle cx="193.9" cy="604.7" r="2.4"/><circle cx="196.3" cy="605.1" r="2.4"/><circle cx="198.6" cy="604.8" r="2.4"/><circle cx="129.2" cy="603.9" r="2.4"/><circle cx="133.1" cy="603.7" r="2.4"/><circle cx="137.5" cy="604" r="2.4"/><circle cx="141.9" cy="603.6" r="2.4"/><circle cx="146" cy="603.7" r="2.4"/><circle cx="150.5" cy="603.8" r="2.4"/><circle cx="154.7" cy="603.7" r="2.4"/><circle cx="158.9" cy="603.8" r="2.4"/><circle cx="163.3" cy="602.4" r="2.4"/><circle cx="167.7" cy="602.8" r="2.4"/><circle cx="171.8" cy="602.4" r="2.4"/><circle cx="176.4" cy="602.5" r="2.4"/><circle cx="180.5" cy="602.6" r="2.4"/><circle cx="184.8" cy="602.6" r="2.4"/><circle cx="189.2" cy="602.8" r="2.4"/><circle cx="193.7" cy="602.4" r="2.4"/><circle cx="197.8" cy="602.7" r="2.4"/><circle cx="129.2" cy="600.5" r="2.4"/><circle cx="133.7" cy="600.5" r="2.4"/><circle cx="138.1" cy="600.3" r="2.4"/><circle cx="142.9" cy="600.6" r="2.4"/><circle cx="147.6" cy="600.5" r="2.4"/><circle cx="151.8" cy="600.5" r="2.4"/><circle cx="156.6" cy="600.4" r="2.4"/><circle cx="161.2" cy="600.3" r="2.4"/><circle cx="165.7" cy="599.2" r="2.4"/><circle cx="170.1" cy="599.1" r="2.4"/><circle cx="174.8" cy="599.4" r="2.4"/><circle cx="179.4" cy="599.1" r="2.4"/><circle cx="183.9" cy="599.1" r="2.4"/><circle cx="188.6" cy="599" r="2.4"/><circle cx="193" cy="599.4" r="2.4"/><circle cx="197.8" cy="599.2" r="2.4"/><circle cx="129" cy="596.9" r="2.4"/><circle cx="133.4" cy="596.8" r="2.4"/><circle cx="138.1" cy="596.9" r="2.4"/><circle cx="142.9" cy="597" r="2.4"/><circle cx="147.6" cy="596.9" r="2.4"/><circle cx="152.1" cy="597" r="2.4"/><circle cx="156.3" cy="596.8" r="2.4"/><circle cx="161.1" cy="597.2" r="2.4"/><circle cx="165.6" cy="595.9" r="2.4"/><circle cx="170.2" cy="596" r="2.4"/><circle cx="174.7" cy="595.8" r="2.4"/><circle cx="179.7" cy="595.7" r="2.4"/><circle cx="183.9" cy="595.6" r="2.4"/><circle cx="188.5" cy="595.7" r="2.4"/><circle cx="193.3" cy="595.7" r="2.4"/><circle cx="197.7" cy="595.7" r="2.4"/><circle cx="129.1" cy="593.8" r="2.4"/><circle cx="134" cy="593.4" r="2.4"/><circle cx="138.9" cy="593.8" r="2.4"/><circle cx="143.8" cy="593.4" r="2.4"/><circle cx="148.8" cy="593.8" r="2.4"/><circle cx="153.5" cy="593.4" r="2.4"/><circle cx="158.3" cy="593.6" r="2.4"/><circle cx="163.6" cy="592.5" r="2.4"/><circle cx="168.5" cy="592.3" r="2.4"/><circle cx="173.1" cy="592.5" r="2.4"/><circle cx="178.2" cy="592.4" r="2.4"/><circle cx="183.1" cy="592.3" r="2.4"/><circle cx="187.8" cy="592.4" r="2.4"/><circle cx="192.7" cy="592.5" r="2.4"/><circle cx="197.7" cy="592.4" r="2.4"/><circle cx="129" cy="590" r="2.4"/><circle cx="133.6" cy="589.9" r="2.4"/><circle cx="138.4" cy="590.1" r="2.4"/><circle cx="143" cy="589.9" r="2.4"/><circle cx="147.4" cy="590.2" r="2.4"/><circle cx="151.8" cy="589.9" r="2.4"/><circle cx="156.3" cy="589.9" r="2.4"/><circle cx="161.2" cy="589.9" r="2.4"/><circle cx="165.9" cy="588.9" r="2.4"/><circle cx="170.3" cy="588.9" r="2.4"/><circle cx="174.9" cy="589" r="2.4"/><circle cx="179.5" cy="588.8" r="2.4"/><circle cx="184.2" cy="588.8" r="2.4"/><circle cx="188.7" cy="589" r="2.4"/><circle cx="193.4" cy="588.8" r="2.4"/><circle cx="197.9" cy="589.1" r="2.4"/><circle cx="129" cy="586.3" r="2.4"/><circle cx="133.9" cy="586.6" r="2.4"/><circle cx="138.6" cy="586.2" r="2.4"/><circle cx="143.7" cy="586.5" r="2.4"/><circle cx="148.8" cy="586.3" r="2.4"/><circle cx="153.8" cy="586.3" r="2.4"/><circle cx="158.6" cy="586.2" r="2.4"/><circle cx="163.2" cy="585" r="2.4"/><circle cx="168.1" cy="585.2" r="2.4"/><circle cx="173.3" cy="585" r="2.4"/><circle cx="178.4" cy="585.1" r="2.4"/><circle cx="182.9" cy="585" r="2.4"/><circle cx="188.1" cy="585.4" r="2.4"/><circle cx="192.7" cy="585" r="2.4"/><circle cx="197.9" cy="585.1" r="2.4"/><circle cx="129.2" cy="582.6" r="2.4"/><circle cx="134" cy="582.5" r="2.4"/><circle cx="139" cy="582.6" r="2.4"/><circle cx="143.7" cy="582.8" r="2.4"/><circle cx="148.5" cy="582.7" r="2.4"/><circle cx="153.4" cy="582.7" r="2.4"/><circle cx="158.4" cy="582.8" r="2.4"/><circle cx="163.2" cy="581.4" r="2.4"/><circle cx="168.3" cy="581.6" r="2.4"/><circle cx="173.5" cy="581.5" r="2.4"/><circle cx="178" cy="581.3" r="2.4"/><circle cx="182.9" cy="581.4" r="2.4"/><circle cx="187.8" cy="581.3" r="2.4"/><circle cx="193" cy="581.5" r="2.4"/><circle cx="197.7" cy="581.6" r="2.4"/><circle cx="141.2" cy="578.2" r="2.4"/><circle cx="146.6" cy="578.4" r="2.4"/><circle cx="152.4" cy="578.1" r="2.4"/><circle cx="157.8" cy="578.4" r="2.4"/><circle cx="162.9" cy="577.3" r="2.4"/><circle cx="168.4" cy="577.6" r="2.4"/><circle cx="173.6" cy="577.5" r="2.4"/><circle cx="179.3" cy="577.4" r="2.4"/><circle cx="184.6" cy="577.6" r="2.4"/><circle cx="146.9" cy="574.7" r="2.4"/><circle cx="152.3" cy="574.6" r="2.4"/><circle cx="157.9" cy="574.4" r="2.4"/><circle cx="163.2" cy="574.7" r="2.4"/><circle cx="168.4" cy="574.3" r="2.4"/><circle cx="173.7" cy="574.7" r="2.4"/><circle cx="179" cy="574.7" r="2.4"/><circle cx="149.8" cy="571.1" r="2.4"/><circle cx="155.1" cy="570.8" r="2.4"/><circle cx="160.8" cy="570.8" r="2.4"/><circle cx="166" cy="571.3" r="2.4"/><circle cx="171.6" cy="571.2" r="2.4"/><circle cx="177.1" cy="570.7" r="2.4"/><circle cx="149.9" cy="567.3" r="2.4"/><circle cx="155.4" cy="567" r="2.4"/><circle cx="160.7" cy="567.1" r="2.4"/><circle cx="166.1" cy="567" r="2.4"/><circle cx="171.2" cy="567.4" r="2.4"/><circle cx="176.7" cy="567.4" r="2.4"/><circle cx="152.7" cy="564" r="2.4"/><circle cx="158" cy="562.3" r="2.4"/><circle cx="168.6" cy="562.5" r="2.4"/><circle cx="173.7" cy="562.3" r="2.4"/><circle cx="163" cy="559.4" r="2.4"/></g>
<g fill="#fff" stroke="#1c1c1c" stroke-width=".88"><use href="#s" x="310.8" y="827.5"/><use href="#s" x="310.8" y="709.4"/><use href="#s" x="310.8" y="705"/><use href="#s" x="305.5" y="700"/><use href="#s" x="310.8" y="700"/><use href="#s" x="316" y="700"/><use href="#s" x="295" y="693"/><use href="#s" x="327.5" y="691.2"/><use href="#s" x="300" y="689.6"/><use href="#s" x="305.5" y="689.6"/><use href="#s" x="310.8" y="689.6"/><use href="#s" x="316" y="689.6"/><use href="#s" x="321.5" y="689.6"/><use href="#s" x="289" y="681.7"/><use href="#s" x="294" y="681.7"/><use href="#s" x="327" y="681.5"/><use href="#s" x="332" y="681.5"/><use href="#s" x="300" y="683"/><use href="#s" x="305" y="681"/><use href="#s" x="310.3" y="683.6"/><use href="#s" x="315.5" y="681.2"/><use href="#s" x="320.6" y="682.6"/><use href="#s" x="297.1" y="675"/><use href="#s" x="302.5" y="675"/><use href="#s" x="308" y="675"/><use href="#s" x="313.4" y="675"/><use href="#s" x="318.9" y="675"/><use href="#s" x="324.3" y="675"/><use href="#s" x="286.8" y="669.3"/><use href="#s" x="291.7" y="669.7"/><use href="#s" x="297.5" y="669.5"/><use href="#s" x="302.6" y="669.2"/><use href="#s" x="308" y="669.1"/><use href="#s" x="313.2" y="669.4"/><use href="#s" x="318.8" y="669.4"/><use href="#s" x="324.2" y="669.1"/><use href="#s" x="329.8" y="669.5"/><use href="#s" x="335.1" y="669.4"/><use href="#s" x="283.2" y="665.4"/><use href="#s" x="288.7" y="665.3"/><use href="#s" x="294.1" y="665.1"/><use href="#s" x="299.6" y="665.4"/><use href="#s" x="305.1" y="665.2"/><use href="#s" x="310.6" y="663.9"/><use href="#s" x="316.3" y="663.8"/><use href="#s" x="321.6" y="664.2"/><use href="#s" x="327" y="664"/><use href="#s" x="332.6" y="663.9"/><use href="#s" x="338" y="663.8"/><use href="#s" x="275.4" y="660.9"/><use href="#s" x="278.8" y="660.1"/><use href="#s" x="282.2" y="660.7"/><use href="#s" x="285.6" y="660.3"/><use href="#s" x="289" y="660.6"/><use href="#s" x="292.4" y="660.5"/><use href="#s" x="295.8" y="660.3"/><use href="#s" x="299.2" y="660.9"/><use href="#s" x="302.6" y="660.1"/><use href="#s" x="306" y="660.7"/><use href="#s" x="309.4" y="660.8"/><use href="#s" x="312.8" y="660.5"/><use href="#s" x="316.2" y="660.6"/><use href="#s" x="319.6" y="660.9"/><use href="#s" x="323" y="660.3"/><use href="#s" x="328" y="659.1"/><use href="#s" x="331.7" y="659.2"/><use href="#s" x="335.4" y="658.9"/><use href="#s" x="339.1" y="659.2"/><use href="#s" x="342.9" y="658.9"/><use href="#s" x="346.6" y="659"/><use href="#s" x="275.4" y="656.7"/><use href="#s" x="278.4" y="657"/><use href="#s" x="281.4" y="656.9"/><use href="#s" x="284.4" y="656.7"/><use href="#s" x="287.4" y="657"/><use href="#s" x="290.4" y="656.7"/><use href="#s" x="293.4" y="657.3"/><use href="#s" x="296.4" y="656.9"/><use href="#s" x="299.4" y="657.1"/><use href="#s" x="302.4" y="656.9"/><use href="#s" x="305.4" y="656.9"/><use href="#s" x="308.4" y="656.6"/><use href="#s" x="311.4" y="656.6"/><use href="#s" x="314.4" y="657.3"/><use href="#s" x="317.7" y="655.4"/><use href="#s" x="320.9" y="655.4"/><use href="#s" x="324.1" y="655.4"/><use href="#s" x="327.4" y="655.7"/><use href="#s" x="330.6" y="655.2"/><use href="#s" x="333.8" y="655.1"/><use href="#s" x="337" y="655.7"/><use href="#s" x="340.2" y="655.4"/><use href="#s" x="343.4" y="655.5"/><use href="#s" x="346.6" y="655.7"/><use href="#s" x="275.4" y="652.9"/><use href="#s" x="278.2" y="653.2"/><use href="#s" x="281" y="653.6"/><use href="#s" x="283.8" y="653.6"/><use href="#s" x="286.6" y="653"/><use href="#s" x="289.4" y="653"/><use href="#s" x="292.2" y="653.1"/><use href="#s" x="295" y="652.9"/><use href="#s" x="297.8" y="653.2"/><use href="#s" x="300.6" y="653.6"/><use href="#s" x="303.4" y="653.3"/><use href="#s" x="306.2" y="653.3"/><use href="#s" x="309" y="652.9"/><use href="#s" x="311.8" y="653.2"/><use href="#s" x="314.6" y="653.7"/><use href="#s" x="317.4" y="653.5"/><use href="#s" x="320.2" y="653.3"/><use href="#s" x="323" y="653.3"/><use href="#s" x="325.8" y="653.6"/><use href="#s" x="331" y="652"/><use href="#s" x="334.1" y="651.5"/><use href="#s" x="337.2" y="652"/><use href="#s" x="340.3" y="651.7"/><use href="#s" x="343.5" y="651.8"/><use href="#s" x="346.6" y="651.6"/><use href="#s" x="275.4" y="649.6"/><use href="#s" x="278.4" y="649.3"/><use href="#s" x="281.4" y="649.4"/><use href="#s" x="284.4" y="649.8"/><use href="#s" x="287.4" y="649.3"/><use href="#s" x="290.4" y="649.4"/><use href="#s" x="293.4" y="649.9"/><use href="#s" x="296.4" y="649.5"/><use href="#s" x="299.4" y="649.5"/><use href="#s" x="302.4" y="649.5"/><use href="#s" x="305.4" y="650"/><use href="#s" x="308.2" y="647.8"/><use href="#s" x="311.1" y="648.3"/><use href="#s" x="314.1" y="648.5"/><use href="#s" x="317" y="647.9"/><use href="#s" x="320" y="648.1"/><use href="#s" x="323" y="648.5"/><use href="#s" x="325.9" y="648.3"/><use href="#s" x="328.9" y="648.1"/><use href="#s" x="331.8" y="647.8"/><use href="#s" x="334.8" y="648.1"/><use href="#s" x="337.7" y="648.1"/><use href="#s" x="340.7" y="648.4"/><use href="#s" x="343.6" y="648"/><use href="#s" x="346.6" y="648.1"/><use href="#s" x="275.4" y="646"/><use href="#s" x="278" y="646"/><use href="#s" x="280.6" y="646.2"/><use href="#s" x="283.2" y="646.5"/><use href="#s" x="285.8" y="645.8"/><use href="#s" x="288.4" y="646.5"/><use href="#s" x="291" y="646.3"/><use href="#s" x="293.6" y="646"/><use href="#s" x="296.2" y="646.2"/><use href="#s" x="298.8" y="645.9"/><use href="#s" x="301.4" y="645.7"/><use href="#s" x="304" y="646.3"/><use href="#s" x="306.6" y="646"/><use href="#s" x="309.2" y="646.1"/><use href="#s" x="311.8" y="646.1"/><use href="#s" x="314.4" y="646.5"/><use href="#s" x="317" y="646.3"/><use href="#s" x="320.8" y="644.2"/><use href="#s" x="323.7" y="644.7"/><use href="#s" x="326.5" y="644.6"/><use href="#s" x="329.4" y="644.6"/><use href="#s" x="332.3" y="644.9"/><use href="#s" x="335.1" y="644.5"/><use href="#s" x="338" y="644.6"/><use href="#s" x="340.9" y="645"/><use href="#s" x="343.7" y="644.5"/><use href="#s" x="346.6" y="644.6"/><use href="#s" x="275.4" y="642.7"/><use href="#s" x="278.1" y="642.7"/><use href="#s" x="280.8" y="642.4"/><use href="#s" x="283.5" y="642.1"/><use href="#s" x="286.2" y="642.7"/><use href="#s" x="288.9" y="642.5"/><use href="#s" x="291.6" y="642.7"/><use href="#s" x="294.3" y="642.7"/><use href="#s" x="297" y="642.2"/><use href="#s" x="299.7" y="642.2"/><use href="#s" x="302.4" y="642.1"/><use href="#s" x="305.1" y="642.8"/><use href="#s" x="307.8" y="642.1"/><use href="#s" x="310.5" y="642.1"/><use href="#s" x="313.7" y="641.2"/><use href="#s" x="316.7" y="641.1"/><use href="#s" x="319.7" y="640.6"/><use href="#s" x="322.7" y="641.2"/><use href="#s" x="325.7" y="641.2"/><use href="#s" x="328.7" y="641"/><use href="#s" x="331.7" y="640.6"/><use href="#s" x="334.7" y="641.2"/><use href="#s" x="337.6" y="640.9"/><use href="#s" x="340.6" y="641.1"/><use href="#s" x="343.6" y="641.4"/><use href="#s" x="346.6" y="641.3"/><use href="#s" x="275.4" y="638.8"/><use href="#s" x="277.9" y="638.9"/><use href="#s" x="280.4" y="638.5"/><use href="#s" x="282.9" y="639.3"/><use href="#s" x="285.4" y="638.7"/><use href="#s" x="287.9" y="638.7"/><use href="#s" x="290.4" y="638.7"/><use href="#s" x="292.9" y="638.7"/><use href="#s" x="295.4" y="639.2"/><use href="#s" x="297.9" y="639"/><use href="#s" x="300.4" y="638.9"/><use href="#s" x="302.9" y="638.8"/><use href="#s" x="305.4" y="638.5"/><use href="#s" x="307.9" y="638.7"/><use href="#s" x="310.4" y="639.2"/><use href="#s" x="312.9" y="639.2"/><use href="#s" x="315.4" y="639.2"/><use href="#s" x="317.9" y="638.7"/><use href="#s" x="320.4" y="638.6"/><use href="#s" x="322.9" y="638.5"/><use href="#s" x="325.4" y="638.9"/><use href="#s" x="327.9" y="637.3"/><use href="#s" x="330.2" y="637.4"/><use href="#s" x="332.6" y="637.4"/><use href="#s" x="334.9" y="637.5"/><use href="#s" x="337.2" y="637.3"/><use href="#s" x="339.6" y="637.7"/><use href="#s" x="341.9" y="637.1"/><use href="#s" x="344.3" y="637.8"/><use href="#s" x="346.6" y="637.5"/><use href="#s" x="275.4" y="635.3"/><use href="#s" x="278.1" y="635.2"/><use href="#s" x="280.8" y="635.4"/><use href="#s" x="283.5" y="635.1"/><use href="#s" x="286.2" y="635.1"/><use href="#s" x="288.9" y="635.6"/><use href="#s" x="291.6" y="635.1"/><use href="#s" x="296.4" y="634"/><use href="#s" x="299" y="634.1"/><use href="#s" x="301.7" y="633.9"/><use href="#s" x="304.3" y="633.8"/><use href="#s" x="307" y="634.2"/><use href="#s" x="309.6" y="633.8"/><use href="#s" x="312.3" y="634.1"/><use href="#s" x="314.9" y="633.4"/><use href="#s" x="317.5" y="633.7"/><use href="#s" x="320.2" y="633.9"/><use href="#s" x="322.8" y="633.4"/><use href="#s" x="325.5" y="634.1"/><use href="#s" x="328.1" y="633.4"/><use href="#s" x="330.7" y="633.9"/><use href="#s" x="333.4" y="633.5"/><use href="#s" x="336" y="634.2"/><use href="#s" x="338.7" y="633.9"/><use href="#s" x="341.3" y="634.1"/><use href="#s" x="344" y="633.8"/><use href="#s" x="346.6" y="634"/><use href="#s" x="275.4" y="631.4"/><use href="#s" x="278" y="632"/><use href="#s" x="280.6" y="631.4"/><use href="#s" x="283.2" y="632.1"/><use href="#s" x="285.8" y="631.4"/><use href="#s" x="288.4" y="631.3"/><use href="#s" x="291" y="631.3"/><use href="#s" x="293.6" y="632"/><use href="#s" x="296.2" y="632.1"/><use href="#s" x="298.8" y="631.6"/><use href="#s" x="301.4" y="631.8"/><use href="#s" x="304" y="631.5"/><use href="#s" x="306.6" y="632.1"/><use href="#s" x="309.2" y="631.9"/><use href="#s" x="311.8" y="631.4"/><use href="#s" x="314.4" y="631.3"/><use href="#s" x="317" y="631.9"/><use href="#s" x="321.3" y="629.8"/><use href="#s" x="323.8" y="630.5"/><use href="#s" x="326.3" y="630"/><use href="#s" x="328.9" y="630"/><use href="#s" x="331.4" y="630.3"/><use href="#s" x="333.9" y="630"/><use href="#s" x="336.5" y="630.3"/><use href="#s" x="339" y="629.9"/><use href="#s" x="341.5" y="630.6"/><use href="#s" x="344.1" y="630"/><use href="#s" x="346.6" y="630.5"/><use href="#s" x="275.4" y="628.5"/><use href="#s" x="278.3" y="628"/><use href="#s" x="281.2" y="627.7"/><use href="#s" x="284.1" y="628"/><use href="#s" x="287" y="628.2"/><use href="#s" x="289.9" y="627.9"/><use href="#s" x="292.8" y="628.1"/><use href="#s" x="295.7" y="627.7"/><use href="#s" x="298.8" y="626.6"/><use href="#s" x="301.9" y="626.8"/><use href="#s" x="305.1" y="626.5"/><use href="#s" x="308.3" y="626.8"/><use href="#s" x="311.5" y="626.3"/><use href="#s" x="314.7" y="626.9"/><use href="#s" x="317.9" y="626.3"/><use href="#s" x="321.1" y="627"/><use href="#s" x="324.3" y="627"/><use href="#s" x="327.5" y="627"/><use href="#s" x="330.7" y="626.6"/><use href="#s" x="333.8" y="626.4"/><use href="#s" x="337" y="626.5"/><use href="#s" x="340.2" y="626.8"/><use href="#s" x="343.4" y="626.6"/><use href="#s" x="346.6" y="627"/><use href="#s" x="275.4" y="624.8"/><use href="#s" x="278.2" y="624.6"/><use href="#s" x="281" y="624.5"/><use href="#s" x="283.8" y="624.1"/><use href="#s" x="286.6" y="624.2"/><use href="#s" x="289.4" y="624.3"/><use href="#s" x="292.2" y="624.9"/><use href="#s" x="298" y="623.3"/><use href="#s" x="300.9" y="622.8"/><use href="#s" x="303.7" y="623.4"/><use href="#s" x="306.6" y="622.6"/><use href="#s" x="309.4" y="623.1"/><use href="#s" x="312.3" y="623.4"/><use href="#s" x="315.1" y="622.9"/><use href="#s" x="318" y="623.4"/><use href="#s" x="320.9" y="623.1"/><use href="#s" x="323.7" y="622.6"/><use href="#s" x="326.6" y="622.8"/><use href="#s" x="329.4" y="623"/><use href="#s" x="332.3" y="622.8"/><use href="#s" x="335.2" y="623.2"/><use href="#s" x="338" y="622.7"/><use href="#s" x="340.9" y="623.3"/><use href="#s" x="343.7" y="622.8"/><use href="#s" x="346.6" y="622.6"/><use href="#s" x="275.4" y="620.9"/><use href="#s" x="278.4" y="621.2"/><use href="#s" x="281.4" y="621"/><use href="#s" x="284.4" y="620.9"/><use href="#s" x="287.4" y="620.5"/><use href="#s" x="290.4" y="620.9"/><use href="#s" x="293.4" y="620.5"/><use href="#s" x="296.4" y="621"/><use href="#s" x="299.4" y="620.6"/><use href="#s" x="302.4" y="621"/><use href="#s" x="305.4" y="620.8"/><use href="#s" x="308.4" y="620.8"/><use href="#s" x="311.4" y="621"/><use href="#s" x="316.1" y="619.1"/><use href="#s" x="318.9" y="619.1"/><use href="#s" x="321.7" y="619.8"/><use href="#s" x="324.4" y="619.2"/><use href="#s" x="327.2" y="619.7"/><use href="#s" x="330" y="619.7"/><use href="#s" x="332.7" y="619.4"/><use href="#s" x="335.5" y="619.1"/><use href="#s" x="338.3" y="619"/><use href="#s" x="341.1" y="619.7"/><use href="#s" x="343.8" y="619.1"/><use href="#s" x="346.6" y="619.4"/><use href="#s" x="275.4" y="617.3"/><use href="#s" x="278.6" y="617"/><use href="#s" x="281.8" y="617.3"/><use href="#s" x="285" y="617.3"/><use href="#s" x="288.2" y="617.2"/><use href="#s" x="291.4" y="617"/><use href="#s" x="294.6" y="617.2"/><use href="#s" x="297.8" y="617"/><use href="#s" x="301" y="617"/><use href="#s" x="304.2" y="617.1"/><use href="#s" x="307.4" y="617.6"/><use href="#s" x="310.6" y="617.3"/><use href="#s" x="316.9" y="616.2"/><use href="#s" x="319.8" y="615.4"/><use href="#s" x="322.8" y="616.2"/><use href="#s" x="325.8" y="615.8"/><use href="#s" x="328.8" y="616.1"/><use href="#s" x="331.7" y="615.9"/><use href="#s" x="334.7" y="616"/><use href="#s" x="337.7" y="615.6"/><use href="#s" x="340.7" y="616"/><use href="#s" x="343.6" y="615.5"/><use href="#s" x="346.6" y="615.6"/><use href="#s" x="275.4" y="613.7"/><use href="#s" x="278.9" y="613.5"/><use href="#s" x="282.4" y="614.1"/><use href="#s" x="285.9" y="613.3"/><use href="#s" x="289.4" y="613.8"/><use href="#s" x="294.2" y="612"/><use href="#s" x="297.7" y="612.3"/><use href="#s" x="301.2" y="612.5"/><use href="#s" x="304.7" y="612.4"/><use href="#s" x="308.2" y="611.8"/><use href="#s" x="311.7" y="612"/><use href="#s" x="315.2" y="612.3"/><use href="#s" x="318.6" y="612.6"/><use href="#s" x="322.1" y="611.8"/><use href="#s" x="325.6" y="612.3"/><use href="#s" x="329.1" y="612.4"/><use href="#s" x="332.6" y="612.5"/><use href="#s" x="336.1" y="612.1"/><use href="#s" x="339.6" y="612.5"/><use href="#s" x="343.1" y="612.2"/><use href="#s" x="346.6" y="612.6"/><use href="#s" x="275.4" y="610"/><use href="#s" x="279.3" y="610"/><use href="#s" x="283.2" y="609.7"/><use href="#s" x="287.1" y="609.9"/><use href="#s" x="291" y="610.3"/><use href="#s" x="293.5" y="608.8"/><use href="#s" x="297.9" y="608.3"/><use href="#s" x="302.3" y="608.5"/><use href="#s" x="306.8" y="608.3"/><use href="#s" x="311.2" y="608.3"/><use href="#s" x="315.6" y="608.3"/><use href="#s" x="320" y="608.4"/><use href="#s" x="324.5" y="609"/><use href="#s" x="328.9" y="609"/><use href="#s" x="333.3" y="608.9"/><use href="#s" x="337.7" y="608.6"/><use href="#s" x="342.2" y="608.6"/><use href="#s" x="346.6" y="608.9"/><use href="#s" x="275.8" y="606.3"/><use href="#s" x="280.8" y="606.1"/><use href="#s" x="285.8" y="606.3"/><use href="#s" x="290.9" y="606"/><use href="#s" x="295.9" y="606.1"/><use href="#s" x="300.8" y="606.4"/><use href="#s" x="306" y="606.3"/><use href="#s" x="310.9" y="605.4"/><use href="#s" x="316.2" y="605.5"/><use href="#s" x="321.2" y="605.4"/><use href="#s" x="326.3" y="605.3"/><use href="#s" x="331.2" y="605.4"/><use href="#s" x="336.4" y="605.4"/><use href="#s" x="341.2" y="605.5"/><use href="#s" x="346.4" y="605.5"/><use href="#s" x="280.9" y="602.4"/><use href="#s" x="287" y="601.8"/><use href="#s" x="292.5" y="601.8"/><use href="#s" x="297.5" y="602"/><use href="#s" x="303" y="602"/><use href="#s" x="309.1" y="602.1"/><use href="#s" x="314.4" y="600.7"/><use href="#s" x="320" y="601"/><use href="#s" x="325.4" y="601.2"/><use href="#s" x="331" y="600.7"/><use href="#s" x="335.9" y="600.9"/><use href="#s" x="342" y="600.7"/><use href="#s" x="277.1" y="597.5"/><use href="#s" x="282.9" y="597.2"/><use href="#s" x="288.4" y="597.2"/><use href="#s" x="293.9" y="597.5"/><use href="#s" x="299.7" y="597.4"/><use href="#s" x="305.3" y="597.3"/><use href="#s" x="310.9" y="596.3"/><use href="#s" x="316.8" y="596.4"/><use href="#s" x="322.2" y="596.2"/><use href="#s" x="327.9" y="596.5"/><use href="#s" x="333.6" y="596.5"/><use href="#s" x="339.4" y="596.2"/><use href="#s" x="345" y="596.2"/><use href="#s" x="289.1" y="592.8"/><use href="#s" x="294.2" y="593.3"/><use href="#s" x="299.6" y="592.8"/><use href="#s" x="305.3" y="593.1"/><use href="#s" x="310.7" y="592.9"/><use href="#s" x="315.9" y="593.3"/><use href="#s" x="321.3" y="593.3"/><use href="#s" x="326.5" y="593.2"/><use href="#s" x="331.9" y="593"/><use href="#s" x="300.3" y="588.9"/><use href="#s" x="306.1" y="589"/><use href="#s" x="311.4" y="588.9"/><use href="#s" x="316.6" y="588.8"/><use href="#s" x="322.1" y="589.1"/><use href="#s" x="300.4" y="585"/><use href="#s" x="305.9" y="585.2"/><use href="#s" x="311.1" y="584.8"/><use href="#s" x="316.3" y="585"/><use href="#s" x="321.8" y="584.9"/><use href="#s" x="303" y="580.7"/><use href="#s" x="308.2" y="580.6"/><use href="#s" x="313.8" y="580.8"/><use href="#s" x="319.1" y="580.5"/><use href="#s" x="303.2" y="576.3"/><use href="#s" x="308.5" y="576.7"/><use href="#s" x="313.7" y="576.6"/><use href="#s" x="319.3" y="576.8"/><use href="#s" x="303" y="572.7"/><use href="#s" x="308" y="572.5"/><use href="#s" x="313.5" y="572.9"/><use href="#s" x="319.3" y="572.4"/><use href="#s" x="303" y="569"/><use href="#s" x="308.2" y="569"/><use href="#s" x="313.7" y="569"/><use href="#s" x="319" y="569.1"/><use href="#s" x="311" y="566.6"/><use href="#s" x="308.5" y="560.8"/><use href="#s" x="314" y="560.5"/><use href="#s" x="305.6" y="556.6"/><use href="#s" x="311" y="557.2"/><use href="#s" x="316.6" y="556.6"/><use href="#s" x="311.1" y="553.5"/><use href="#s" x="308.6" y="549"/><use href="#s" x="313.6" y="546"/><use href="#s" x="308.6" y="538.6"/><use href="#s" x="313.6" y="537.4"/></g>
<g fill="#fff" stroke="#1c1c1c" stroke-width=".88" stroke-linejoin="miter"><use href="#t" x="472.3" y="511.3"/><use href="#t" x="466.9" y="511.3"/><use href="#t" x="461.3" y="511.3"/><use href="#t" x="456" y="511.3"/><use href="#t" x="450.5" y="511.3"/><use href="#t" x="445.3" y="511.3"/><use href="#t" x="428.9" y="507.2"/><use href="#t" x="434.3" y="507.2"/><use href="#t" x="439.5" y="507.2"/><use href="#t" x="445" y="507.2"/><use href="#t" x="450.5" y="507.2"/><use href="#t" x="456" y="507.2"/><use href="#t" x="461.3" y="507.2"/><use href="#t" x="466.6" y="507.2"/><use href="#t" x="472.3" y="507.2"/><use href="#t" x="477.7" y="507.2"/><use href="#t" x="483.2" y="507.2"/><use href="#t" x="488.6" y="507.2"/><use href="#t" x="458.4" y="504.4"/></g>
<path d="M89.3 559.8H533" stroke="#4a4a4a" stroke-width="1.4" fill="none"/>
<path d="M70 16V383H536M80 486.4V853.4H542.6" stroke="#000" stroke-width="1.5" fill="none" stroke-linejoin="miter"/>
<path d="M60 373.4H70M60 335.4H70M60 297.4H70M60 259.4H70M60 221.3H70M60 183.3H70M60 145.3H70M60 107.3H70M60 69.3H70M60 31.3H70M65 354.4H70M65 316.4H70M65 278.4H70M65 240.3H70M65 202.3H70M65 164.3H70M65 126.3H70M65 88.3H70M65 50.3H70M70 844H80M70 786.9H80M70 729.9H80M70 672.8H80M70 615.7H80M70 558.6H80M70 501.6H80M153.6 383V393.6M302.3 383V393.6M451.1 383V393.6M163 853.4V863.6M310.3 853.4V863.6M458.4 853.4V863.6" stroke="#222" stroke-width="1.25" fill="none"/>
<g text-anchor="end" font-size="12.2" letter-spacing="-.45">
<text x="56.4" y="377.8">-60</text>
<text x="56.4" y="339.8">-40</text>
<text x="56.4" y="301.8">-20</text>
<text x="56.4" y="263.8">0</text>
<text x="56.4" y="225.7">20</text>
<text x="56.4" y="187.7">40</text>
<text x="56.4" y="149.7">60</text>
<text x="56.4" y="111.7">80</text>
<text x="56.4" y="73.7">100</text>
<text x="56.4" y="35.7">120</text>
<text x="66" y="848.4">-200</text>
<text x="66" y="791.3">-150</text>
<text x="66" y="734.2">-100</text>
<text x="66" y="677.2">-50</text>
<text x="66" y="620.1">0</text>
<text x="66" y="563">50</text>
<text x="66" y="506">100</text>
</g><g text-anchor="middle">
<text x="153.7" y="411.8">Negative</text>
<text x="302.3" y="411.8">Vaccinated</text>
<text x="451" y="411.8">Infected</text>
<text x="163" y="882">Negative</text>
<text x="310.5" y="882">Vaccinated</text>
<text x="458.6" y="882">Infected</text>
<text x="304.8" y="432.4" font-size="11.9">Population Status</text>
<text x="313.2" y="903.8" font-size="11.9">Population Status</text>
<text transform="translate(18.9 194.5)rotate(-90)" font-size="13.5">Percent Inhibition</text>
<text transform="translate(25.4 665)rotate(-90)" font-size="13.5">Percent Inhibition</text>
</g></svg></body></html>
